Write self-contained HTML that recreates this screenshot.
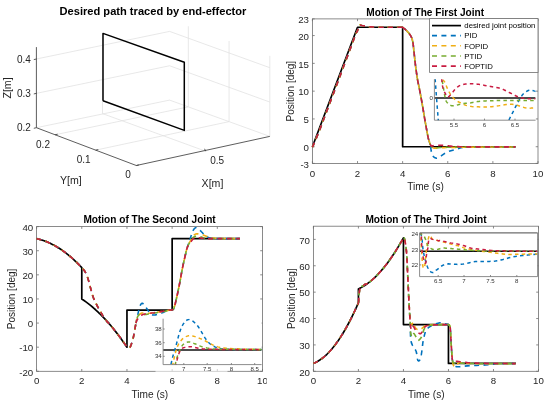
<!DOCTYPE html>
<html><head><meta charset="utf-8"><style>
html,body{margin:0;padding:0;background:#fff;}
svg{display:block;font-family:"Liberation Sans",Arial,Helvetica,sans-serif;}
</style></head><body>
<svg width="550" height="404" viewBox="0 0 550 404">
<rect x="0" y="0" width="550" height="404" fill="#fff"/>
<line x1="36.40" y1="127.70" x2="169.60" y2="100.10" stroke="#e0e0e0" stroke-width="0.75"/>
<line x1="169.60" y1="100.10" x2="269.80" y2="136.40" stroke="#e0e0e0" stroke-width="0.75"/>
<line x1="36.40" y1="93.35" x2="169.60" y2="65.75" stroke="#e0e0e0" stroke-width="0.75"/>
<line x1="169.60" y1="65.75" x2="269.80" y2="102.05" stroke="#e0e0e0" stroke-width="0.75"/>
<line x1="36.40" y1="59.00" x2="169.60" y2="31.40" stroke="#e0e0e0" stroke-width="0.75"/>
<line x1="169.60" y1="31.40" x2="269.80" y2="67.70" stroke="#e0e0e0" stroke-width="0.75"/>
<line x1="102.50" y1="113.60" x2="102.50" y2="33.00" stroke="#e0e0e0" stroke-width="0.75"/>
<line x1="205.60" y1="151.20" x2="102.50" y2="113.60" stroke="#e0e0e0" stroke-width="0.75"/>
<line x1="95.69" y1="150.13" x2="229.07" y2="121.64" stroke="#e0e0e0" stroke-width="0.75"/>
<line x1="229.07" y1="121.64" x2="229.07" y2="41.04" stroke="#e0e0e0" stroke-width="0.75"/>
<line x1="55.08" y1="134.77" x2="188.34" y2="106.89" stroke="#e0e0e0" stroke-width="0.75"/>
<line x1="188.34" y1="106.89" x2="188.34" y2="26.29" stroke="#e0e0e0" stroke-width="0.75"/>
<line x1="269.80" y1="136.40" x2="269.80" y2="55.80" stroke="#e0e0e0" stroke-width="0.75"/>
<line x1="36.40" y1="127.70" x2="36.40" y2="47.10" stroke="#333333" stroke-width="0.80"/>
<line x1="36.40" y1="127.70" x2="136.30" y2="165.50" stroke="#333333" stroke-width="0.80"/>
<line x1="136.30" y1="165.50" x2="269.80" y2="136.40" stroke="#333333" stroke-width="0.80"/>
<line x1="36.40" y1="127.70" x2="33.80" y2="128.30" stroke="#333333" stroke-width="0.80"/>
<text x="30.80" y="131.30" font-size="10.00" text-anchor="end" font-weight="normal" fill="#262626">0.2</text>
<line x1="36.40" y1="93.35" x2="33.80" y2="93.95" stroke="#333333" stroke-width="0.80"/>
<text x="30.80" y="96.95" font-size="10.00" text-anchor="end" font-weight="normal" fill="#262626">0.3</text>
<line x1="36.40" y1="59.00" x2="33.80" y2="59.60" stroke="#333333" stroke-width="0.80"/>
<text x="30.80" y="62.60" font-size="10.00" text-anchor="end" font-weight="normal" fill="#262626">0.4</text>
<line x1="136.30" y1="165.50" x2="138.90" y2="164.93" stroke="#333333" stroke-width="0.80"/>
<line x1="95.69" y1="150.13" x2="98.29" y2="149.56" stroke="#333333" stroke-width="0.80"/>
<line x1="55.08" y1="134.77" x2="57.68" y2="134.20" stroke="#333333" stroke-width="0.80"/>
<text x="43.00" y="148.00" font-size="10.00" text-anchor="middle" font-weight="normal" fill="#262626">0.2</text>
<text x="83.70" y="163.30" font-size="10.00" text-anchor="middle" font-weight="normal" fill="#262626">0.1</text>
<text x="128.10" y="178.30" font-size="10.00" text-anchor="middle" font-weight="normal" fill="#262626">0</text>
<line x1="205.60" y1="151.20" x2="204.60" y2="148.80" stroke="#333333" stroke-width="0.80"/>
<text x="217.20" y="163.90" font-size="10.00" text-anchor="middle" font-weight="normal" fill="#262626">0.5</text>
<text x="70.90" y="184.40" font-size="10.60" text-anchor="middle" font-weight="normal" fill="#262626">Y[m]</text>
<text x="212.50" y="186.50" font-size="10.60" text-anchor="middle" font-weight="normal" fill="#262626">X[m]</text>
<text x="0" y="0" font-size="10.6" text-anchor="middle" fill="#262626" transform="translate(11.2 88) rotate(-90)">Z[m]</text>
<text x="153.00" y="15.40" font-size="11.10" text-anchor="middle" font-weight="bold" fill="#000">Desired path traced by end-effector</text>
<polyline points="103.00,100.80 103.00,33.40 184.30,62.20 184.30,130.40 103.00,100.80" fill="none" stroke="#000" stroke-width="1.50" stroke-linejoin="round"/>
<rect x="312.40" y="18.90" width="225.60" height="144.50" fill="none" stroke="#6e6e6e" stroke-width="0.80"/>
<line x1="312.40" y1="163.40" x2="312.40" y2="161.10" stroke="#6e6e6e" stroke-width="0.80"/>
<line x1="312.40" y1="18.90" x2="312.40" y2="21.20" stroke="#6e6e6e" stroke-width="0.80"/>
<text x="312.40" y="176.50" font-size="9.70" text-anchor="middle" font-weight="normal" fill="#262626">0</text>
<line x1="357.52" y1="163.40" x2="357.52" y2="161.10" stroke="#6e6e6e" stroke-width="0.80"/>
<line x1="357.52" y1="18.90" x2="357.52" y2="21.20" stroke="#6e6e6e" stroke-width="0.80"/>
<text x="357.52" y="176.50" font-size="9.70" text-anchor="middle" font-weight="normal" fill="#262626">2</text>
<line x1="402.64" y1="163.40" x2="402.64" y2="161.10" stroke="#6e6e6e" stroke-width="0.80"/>
<line x1="402.64" y1="18.90" x2="402.64" y2="21.20" stroke="#6e6e6e" stroke-width="0.80"/>
<text x="402.64" y="176.50" font-size="9.70" text-anchor="middle" font-weight="normal" fill="#262626">4</text>
<line x1="447.76" y1="163.40" x2="447.76" y2="161.10" stroke="#6e6e6e" stroke-width="0.80"/>
<line x1="447.76" y1="18.90" x2="447.76" y2="21.20" stroke="#6e6e6e" stroke-width="0.80"/>
<text x="447.76" y="176.50" font-size="9.70" text-anchor="middle" font-weight="normal" fill="#262626">6</text>
<line x1="492.88" y1="163.40" x2="492.88" y2="161.10" stroke="#6e6e6e" stroke-width="0.80"/>
<line x1="492.88" y1="18.90" x2="492.88" y2="21.20" stroke="#6e6e6e" stroke-width="0.80"/>
<text x="492.88" y="176.50" font-size="9.70" text-anchor="middle" font-weight="normal" fill="#262626">8</text>
<line x1="538.00" y1="163.40" x2="538.00" y2="161.10" stroke="#6e6e6e" stroke-width="0.80"/>
<line x1="538.00" y1="18.90" x2="538.00" y2="21.20" stroke="#6e6e6e" stroke-width="0.80"/>
<text x="538.00" y="176.50" font-size="9.70" text-anchor="middle" font-weight="normal" fill="#262626">10</text>
<line x1="312.40" y1="163.40" x2="314.70" y2="163.40" stroke="#6e6e6e" stroke-width="0.80"/>
<line x1="538.00" y1="163.40" x2="535.70" y2="163.40" stroke="#6e6e6e" stroke-width="0.80"/>
<text x="309.00" y="167.60" font-size="9.70" text-anchor="end" font-weight="normal" fill="#262626">-3</text>
<line x1="312.40" y1="146.73" x2="314.70" y2="146.73" stroke="#6e6e6e" stroke-width="0.80"/>
<line x1="538.00" y1="146.73" x2="535.70" y2="146.73" stroke="#6e6e6e" stroke-width="0.80"/>
<text x="309.00" y="150.93" font-size="9.70" text-anchor="end" font-weight="normal" fill="#262626">0</text>
<line x1="312.40" y1="118.94" x2="314.70" y2="118.94" stroke="#6e6e6e" stroke-width="0.80"/>
<line x1="538.00" y1="118.94" x2="535.70" y2="118.94" stroke="#6e6e6e" stroke-width="0.80"/>
<text x="309.00" y="123.14" font-size="9.70" text-anchor="end" font-weight="normal" fill="#262626">5</text>
<line x1="312.40" y1="91.15" x2="314.70" y2="91.15" stroke="#6e6e6e" stroke-width="0.80"/>
<line x1="538.00" y1="91.15" x2="535.70" y2="91.15" stroke="#6e6e6e" stroke-width="0.80"/>
<text x="309.00" y="95.35" font-size="9.70" text-anchor="end" font-weight="normal" fill="#262626">10</text>
<line x1="312.40" y1="63.36" x2="314.70" y2="63.36" stroke="#6e6e6e" stroke-width="0.80"/>
<line x1="538.00" y1="63.36" x2="535.70" y2="63.36" stroke="#6e6e6e" stroke-width="0.80"/>
<text x="309.00" y="67.56" font-size="9.70" text-anchor="end" font-weight="normal" fill="#262626">15</text>
<line x1="312.40" y1="35.57" x2="314.70" y2="35.57" stroke="#6e6e6e" stroke-width="0.80"/>
<line x1="538.00" y1="35.57" x2="535.70" y2="35.57" stroke="#6e6e6e" stroke-width="0.80"/>
<text x="309.00" y="39.77" font-size="9.70" text-anchor="end" font-weight="normal" fill="#262626">20</text>
<line x1="312.40" y1="18.90" x2="314.70" y2="18.90" stroke="#6e6e6e" stroke-width="0.80"/>
<line x1="538.00" y1="18.90" x2="535.70" y2="18.90" stroke="#6e6e6e" stroke-width="0.80"/>
<text x="309.00" y="23.10" font-size="9.70" text-anchor="end" font-weight="normal" fill="#262626">23</text>
<text x="425.50" y="190.00" font-size="10.10" text-anchor="middle" font-weight="normal" fill="#262626">Time (s)</text>
<text x="425.20" y="15.50" font-size="10.10" text-anchor="middle" font-weight="bold" fill="#000">Motion of The First Joint</text>
<text x="0" y="0" font-size="10.00" text-anchor="middle" fill="#262626" transform="translate(294.20 91.15) rotate(-90)">Position [deg]</text>
<polyline points="312.40,146.73 357.52,27.24 402.64,27.24 402.64,146.73 515.44,146.73" fill="none" stroke="#000" stroke-width="1.70" stroke-linejoin="round"/>
<polyline points="312.40,147.28 313.56,144.57 315.22,140.72 317.16,136.12 319.17,131.17 321.32,125.59 323.68,119.32 326.04,112.99 328.19,107.27 329.94,102.68 331.43,98.76 333.00,94.65 334.96,89.48 337.52,82.70 340.46,74.86 343.47,66.83 346.24,59.47 348.81,52.62 351.32,45.96 353.54,40.08 355.26,35.57 356.31,33.00 356.84,31.91 357.15,31.40 357.52,30.57 357.98,29.14 358.39,27.60 358.82,26.23 359.32,25.29 359.84,24.95 360.37,25.03 361.05,25.31 362.03,25.57 363.33,25.80 364.88,26.11 366.70,26.42 368.80,26.68 371.04,26.87 373.45,27.03 376.36,27.15 380.08,27.24 385.46,27.28 392.06,27.27 398.32,27.25 402.64,27.24" fill="none" stroke="#0072BD" stroke-width="1.60" stroke-dasharray="5 4.4" stroke-dashoffset="0.0" stroke-linejoin="round"/>
<polyline points="402.64,27.24 402.60,27.23 402.53,27.21 402.53,27.24 402.70,27.40 403.11,27.72 403.70,28.16 404.36,28.67 405.00,29.20 405.62,29.76 406.27,30.36 406.91,30.99 407.50,31.60 408.03,32.17 408.53,32.73 409.00,33.32 409.50,34.00 410.04,34.79 410.59,35.64 411.13,36.58 411.60,37.60 411.99,38.65 412.32,39.74 412.61,40.99 412.90,42.50 413.17,44.35 413.42,46.47 413.66,48.73 413.90,51.00 414.15,53.28 414.39,55.63 414.64,58.01 414.90,60.40 415.18,62.78 415.47,65.16 415.77,67.57 416.10,70.00 416.44,72.48 416.80,74.99 417.18,77.50 417.60,80.00 418.05,82.36 418.53,84.64 419.05,87.05 419.60,89.80 420.21,93.01 420.86,96.54 421.54,100.26 422.20,104.00 422.86,107.89 423.54,111.95 424.19,115.91 424.80,119.50 425.35,122.62 425.86,125.44 426.34,128.03 426.80,130.50 427.24,132.87 427.66,135.09 428.07,137.14 428.50,139.00 428.99,140.74 429.51,142.33 429.97,143.66 430.30,144.60 431.20,151.00 431.45,151.76 431.80,152.86 432.22,154.10 432.69,155.28 433.20,156.20 433.76,156.86 434.37,157.40 435.03,157.81 435.72,158.08 436.40,158.20 437.04,158.16 437.63,157.96 438.27,157.63 439.04,157.17 440.00,156.60 441.19,155.84 442.57,154.89 444.07,153.85 445.67,152.85 447.30,152.00 449.04,151.31 450.90,150.71 452.81,150.18 454.67,149.68 456.40,149.20 457.97,148.72 459.46,148.27 460.87,147.85 462.24,147.49 463.60,147.20 464.87,146.99 466.04,146.86 467.22,146.78 468.50,146.74 470.00,146.70 471.36,146.68 472.52,146.70 473.99,146.73 476.31,146.77 480.00,146.80 486.04,146.82 494.07,146.84 502.63,146.87 510.26,146.89 515.50,146.90" fill="none" stroke="#0072BD" stroke-width="1.60" stroke-dasharray="5 4.4" stroke-dashoffset="6.6" stroke-linejoin="round"/>
<polyline points="312.40,147.28 313.56,144.57 315.22,140.72 317.16,136.12 319.17,131.17 321.32,125.59 323.68,119.32 326.04,112.99 328.19,107.27 329.94,102.68 331.43,98.76 333.00,94.65 334.96,89.48 337.52,82.70 340.46,74.86 343.47,66.83 346.24,59.47 348.81,52.62 351.32,45.96 353.54,40.08 355.26,35.57 356.31,33.00 356.84,31.91 357.15,31.40 357.52,30.57 357.98,29.14 358.39,27.60 358.82,26.23 359.32,25.29 359.84,24.95 360.37,25.03 361.05,25.31 362.03,25.57 363.33,25.80 364.88,26.11 366.70,26.42 368.80,26.68 371.04,26.87 373.45,27.03 376.36,27.15 380.08,27.24 385.46,27.28 392.06,27.27 398.32,27.25 402.64,27.24" fill="none" stroke="#F0AE14" stroke-width="1.60" stroke-dasharray="5 4.4" stroke-dashoffset="0.6" stroke-linejoin="round"/>
<polyline points="402.64,27.24 402.60,27.23 402.53,27.21 402.53,27.24 402.70,27.40 403.11,27.72 403.70,28.16 404.36,28.67 405.00,29.20 405.62,29.76 406.27,30.36 406.91,30.99 407.50,31.60 408.03,32.17 408.53,32.73 409.00,33.32 409.50,34.00 410.04,34.79 410.59,35.64 411.13,36.58 411.60,37.60 411.99,38.65 412.32,39.74 412.61,40.99 412.90,42.50 413.17,44.35 413.42,46.47 413.66,48.73 413.90,51.00 414.15,53.28 414.39,55.63 414.64,58.01 414.90,60.40 415.18,62.78 415.47,65.16 415.77,67.57 416.10,70.00 416.44,72.48 416.80,74.99 417.18,77.50 417.60,80.00 418.05,82.36 418.53,84.64 419.05,87.05 419.60,89.80 420.21,93.01 420.86,96.54 421.54,100.26 422.20,104.00 422.86,107.89 423.54,111.95 424.19,115.91 424.80,119.50 425.35,122.62 425.86,125.44 426.34,128.03 426.80,130.50 427.24,132.87 427.66,135.09 428.07,137.14 428.50,139.00 428.99,140.74 429.51,142.33 429.97,143.66 430.30,144.60 432.00,147.60 432.38,147.70 432.89,147.84 433.51,148.00 434.22,148.13 435.00,148.20 435.82,148.18 436.71,148.11 437.69,148.00 438.78,147.89 440.00,147.80 441.34,147.73 442.79,147.67 444.37,147.61 446.10,147.55 448.00,147.50 450.02,147.45 452.13,147.41 454.43,147.38 457.02,147.34 460.00,147.30 463.49,147.26 467.42,147.22 471.62,147.17 475.87,147.13 480.00,147.10 484.07,147.07 488.22,147.05 492.32,147.04 496.29,147.02 500.00,147.00 503.64,146.98 507.27,146.96 510.63,146.93 513.46,146.91 515.50,146.90" fill="none" stroke="#F0AE14" stroke-width="1.60" stroke-dasharray="5 4.4" stroke-dashoffset="4.7" stroke-linejoin="round"/>
<polyline points="312.40,147.28 313.56,144.57 315.22,140.72 317.16,136.12 319.17,131.17 321.32,125.59 323.68,119.32 326.04,112.99 328.19,107.27 329.94,102.68 331.43,98.76 333.00,94.65 334.96,89.48 337.52,82.70 340.46,74.86 343.47,66.83 346.24,59.47 348.81,52.62 351.32,45.96 353.54,40.08 355.26,35.57 356.31,33.00 356.84,31.91 357.15,31.40 357.52,30.57 357.98,29.14 358.39,27.60 358.82,26.23 359.32,25.29 359.84,24.95 360.37,25.03 361.05,25.31 362.03,25.57 363.33,25.80 364.88,26.11 366.70,26.42 368.80,26.68 371.04,26.87 373.45,27.03 376.36,27.15 380.08,27.24 385.46,27.28 392.06,27.27 398.32,27.25 402.64,27.24" fill="none" stroke="#77AC30" stroke-width="1.60" stroke-dasharray="5 4.4" stroke-dashoffset="0.3" stroke-linejoin="round"/>
<polyline points="402.64,27.24 402.60,27.23 402.53,27.21 402.53,27.24 402.70,27.40 403.11,27.72 403.70,28.16 404.36,28.67 405.00,29.20 405.62,29.76 406.27,30.36 406.91,30.99 407.50,31.60 408.03,32.17 408.53,32.73 409.00,33.32 409.50,34.00 410.04,34.79 410.59,35.64 411.13,36.58 411.60,37.60 411.99,38.65 412.32,39.74 412.61,40.99 412.90,42.50 413.17,44.35 413.42,46.47 413.66,48.73 413.90,51.00 414.15,53.28 414.39,55.63 414.64,58.01 414.90,60.40 415.18,62.78 415.47,65.16 415.77,67.57 416.10,70.00 416.44,72.48 416.80,74.99 417.18,77.50 417.60,80.00 418.05,82.36 418.53,84.64 419.05,87.05 419.60,89.80 420.21,93.01 420.86,96.54 421.54,100.26 422.20,104.00 422.86,107.89 423.54,111.95 424.19,115.91 424.80,119.50 425.35,122.62 425.86,125.44 426.34,128.03 426.80,130.50 427.24,132.87 427.66,135.09 428.07,137.14 428.50,139.00 428.99,140.74 429.51,142.33 429.97,143.66 430.30,144.60 432.00,147.40 432.38,147.48 432.89,147.61 433.51,147.74 434.22,147.85 435.00,147.90 435.79,147.88 436.62,147.80 437.54,147.70 438.65,147.59 440.00,147.50 441.52,147.43 443.16,147.37 445.04,147.31 447.28,147.25 450.00,147.20 452.95,147.15 456.06,147.11 459.68,147.07 464.21,147.03 470.00,147.00 478.20,146.97 488.55,146.95 499.35,146.93 508.90,146.91 515.50,146.90" fill="none" stroke="#77AC30" stroke-width="1.60" stroke-dasharray="5 4.4" stroke-dashoffset="1.0" stroke-linejoin="round"/>
<polyline points="312.40,147.28 313.56,144.57 315.22,140.72 317.16,136.12 319.17,131.17 321.32,125.59 323.68,119.32 326.04,112.99 328.19,107.27 329.94,102.68 331.43,98.76 333.00,94.65 334.96,89.48 337.52,82.70 340.46,74.86 343.47,66.83 346.24,59.47 348.81,52.62 351.32,45.96 353.54,40.08 355.26,35.57 356.31,33.00 356.84,31.91 357.15,31.40 357.52,30.57 357.98,29.14 358.39,27.60 358.82,26.23 359.32,25.29 359.84,24.95 360.37,25.03 361.05,25.31 362.03,25.57 363.33,25.80 364.88,26.11 366.70,26.42 368.80,26.68 371.04,26.87 373.45,27.03 376.36,27.15 380.08,27.24 385.46,27.28 392.06,27.27 398.32,27.25 402.64,27.24" fill="none" stroke="#C91C42" stroke-width="1.60" stroke-dasharray="5 4.4" stroke-dashoffset="0.0" stroke-linejoin="round"/>
<polyline points="402.64,27.24 402.60,27.23 402.53,27.21 402.53,27.24 402.70,27.40 403.11,27.72 403.70,28.16 404.36,28.67 405.00,29.20 405.62,29.76 406.27,30.36 406.91,30.99 407.50,31.60 408.03,32.17 408.53,32.73 409.00,33.32 409.50,34.00 410.04,34.79 410.59,35.64 411.13,36.58 411.60,37.60 411.99,38.65 412.32,39.74 412.61,40.99 412.90,42.50 413.17,44.35 413.42,46.47 413.66,48.73 413.90,51.00 414.15,53.28 414.39,55.63 414.64,58.01 414.90,60.40 415.18,62.78 415.47,65.16 415.77,67.57 416.10,70.00 416.44,72.48 416.80,74.99 417.18,77.50 417.60,80.00 418.05,82.36 418.53,84.64 419.05,87.05 419.60,89.80 420.21,93.01 420.86,96.54 421.54,100.26 422.20,104.00 422.86,107.89 423.54,111.95 424.19,115.91 424.80,119.50 425.35,122.62 425.86,125.44 426.34,128.03 426.80,130.50 427.24,132.87 427.66,135.09 428.07,137.14 428.50,139.00 428.99,140.74 429.51,142.33 429.97,143.66 430.30,144.60 431.50,146.20 431.78,146.11 432.15,145.99 432.63,145.85 433.24,145.71 434.00,145.60 434.98,145.51 436.15,145.43 437.43,145.36 438.74,145.32 440.00,145.30 441.20,145.32 442.40,145.36 443.60,145.43 444.80,145.51 446.00,145.60 447.17,145.70 448.30,145.82 449.46,145.95 450.67,146.08 452.00,146.20 453.44,146.31 454.96,146.42 456.56,146.53 458.24,146.62 460.00,146.70 461.30,146.76 462.15,146.81 463.35,146.85 465.70,146.88 470.00,146.90 477.56,146.91 487.83,146.91 498.87,146.91 508.74,146.90 515.50,146.90" fill="none" stroke="#C91C42" stroke-width="1.60" stroke-dasharray="5 4.4" stroke-dashoffset="0.0" stroke-linejoin="round"/>
<rect x="429.6" y="18.6" width="108.4" height="53.9" fill="#fff" stroke="#6e6e6e" stroke-width="0.80"/>
<polyline points="432.00,25.60 461.00,25.60" fill="none" stroke="#000" stroke-width="1.70" stroke-linejoin="round"/>
<text x="464.30" y="28.40" font-size="7.80" text-anchor="start" font-weight="normal" fill="#000">desired joint position</text>
<polyline points="432.00,35.60 461.00,35.60" fill="none" stroke="#0072BD" stroke-width="1.60" stroke-dasharray="5 4.4" stroke-dashoffset="0.0" stroke-linejoin="round"/>
<text x="464.30" y="38.40" font-size="7.80" text-anchor="start" font-weight="normal" fill="#000">PID</text>
<polyline points="432.00,45.80 461.00,45.80" fill="none" stroke="#F0AE14" stroke-width="1.60" stroke-dasharray="5 4.4" stroke-dashoffset="0.0" stroke-linejoin="round"/>
<text x="464.30" y="48.60" font-size="7.80" text-anchor="start" font-weight="normal" fill="#000">FOPID</text>
<polyline points="432.00,56.00 461.00,56.00" fill="none" stroke="#77AC30" stroke-width="1.60" stroke-dasharray="5 4.4" stroke-dashoffset="0.0" stroke-linejoin="round"/>
<text x="464.30" y="58.80" font-size="7.80" text-anchor="start" font-weight="normal" fill="#000">PTID</text>
<polyline points="432.00,66.10 461.00,66.10" fill="none" stroke="#C91C42" stroke-width="1.60" stroke-dasharray="5 4.4" stroke-dashoffset="0.0" stroke-linejoin="round"/>
<text x="464.30" y="68.90" font-size="7.80" text-anchor="start" font-weight="normal" fill="#000">FOPTID</text>
<clipPath id="c1"><rect x="434.40" y="79.20" width="101.20" height="41.00"/></clipPath>
<rect x="434.40" y="79.20" width="101.20" height="41.00" fill="#fff"/>
<g clip-path="url(#c1)">
<polyline points="434.40,98.10 535.60,98.10" fill="none" stroke="#111" stroke-width="1.50" stroke-linejoin="round"/>
<polyline points="434.90,72.00 434.92,72.78 434.95,73.77 434.99,75.08 435.06,76.85 435.20,79.20 435.40,82.30 435.67,86.06 435.97,90.24 436.28,94.57 436.60,98.80 436.94,103.25 437.33,108.08 437.71,112.82 438.04,117.02 438.30,120.20 438.45,122.15 438.54,123.17 438.57,123.60 438.58,123.76 438.60,124.00" fill="none" stroke="#0072BD" stroke-width="1.50" stroke-dasharray="3.5 3.2" stroke-dashoffset="0.0" stroke-linejoin="round"/>
<polyline points="506.00,126.00 506.36,125.24 506.86,124.19 507.46,122.94 508.12,121.58 508.80,120.20 509.53,118.75 510.34,117.18 511.19,115.54 512.02,113.93 512.80,112.40 513.52,110.97 514.20,109.58 514.87,108.24 515.53,106.91 516.20,105.60 516.88,104.29 517.56,102.99 518.24,101.71 518.92,100.48 519.60,99.30 520.26,98.18 520.90,97.09 521.55,96.06 522.24,95.09 523.00,94.20 523.86,93.37 524.81,92.58 525.79,91.88 526.74,91.27 527.60,90.80 528.34,90.47 528.99,90.27 529.62,90.18 530.27,90.16 531.00,90.20 531.86,90.33 532.82,90.57 533.79,90.86 534.71,91.16 535.50,91.40 536.17,91.60 536.76,91.79 537.28,91.96 537.69,92.10 538.00,92.20" fill="none" stroke="#0072BD" stroke-width="1.50" stroke-dasharray="3.5 3.2" stroke-dashoffset="0.0" stroke-linejoin="round"/>
<polyline points="442.00,75.00 442.08,75.58 442.19,76.41 442.33,77.36 442.53,78.33 442.80,79.20 443.16,79.91 443.59,80.52 444.07,81.15 444.58,81.88 445.10,82.80 445.63,84.00 446.18,85.41 446.75,86.91 447.33,88.38 447.90,89.70 448.48,90.86 449.06,91.95 449.64,92.97 450.22,93.92 450.80,94.80 451.36,95.60 451.90,96.31 452.44,96.96 453.00,97.59 453.60,98.20 454.22,98.81 454.86,99.39 455.52,99.94 456.23,100.48 457.00,101.00 457.84,101.50 458.76,101.97 459.71,102.42 460.67,102.86 461.60,103.30 462.49,103.75 463.35,104.20 464.22,104.64 465.12,105.05 466.10,105.40 467.13,105.70 468.18,105.95 469.30,106.16 470.49,106.34 471.80,106.50 473.28,106.63 474.92,106.72 476.62,106.79 478.28,106.84 479.80,106.90 481.14,106.97 482.35,107.03 483.52,107.09 484.71,107.11 486.00,107.10 487.39,107.04 488.84,106.94 490.34,106.81 491.86,106.66 493.40,106.50 494.96,106.31 496.56,106.10 498.18,105.87 499.80,105.63 501.40,105.40 503.00,105.13 504.62,104.83 506.22,104.54 507.79,104.31 509.30,104.20 510.76,104.22 512.19,104.33 513.57,104.51 514.91,104.74 516.20,105.00 517.42,105.30 518.57,105.67 519.68,106.07 520.78,106.46 521.90,106.80 523.00,107.12 524.07,107.43 525.15,107.71 526.31,107.94 527.60,108.10 529.18,108.15 531.02,108.12 532.87,108.04 534.48,107.95 535.60,107.90" fill="none" stroke="#F0AE14" stroke-width="1.50" stroke-dasharray="3.5 3.2" stroke-dashoffset="2.0" stroke-linejoin="round"/>
<polyline points="441.50,75.00 441.55,75.51 441.62,76.19 441.71,77.03 441.83,78.04 442.00,79.20 442.23,80.62 442.52,82.31 442.83,84.11 443.14,85.86 443.40,87.40 443.60,88.68 443.77,89.81 443.93,90.86 444.10,91.93 444.30,93.10 444.54,94.44 444.79,95.90 445.06,97.37 445.36,98.74 445.70,99.90 446.06,100.81 446.44,101.55 446.85,102.17 447.33,102.73 447.90,103.30 448.57,103.91 449.32,104.52 450.13,105.08 451.00,105.53 451.90,105.80 452.84,105.86 453.83,105.75 454.86,105.52 455.92,105.25 457.00,105.00 458.08,104.75 459.18,104.44 460.31,104.13 461.48,103.84 462.70,103.60 463.97,103.44 465.28,103.34 466.64,103.26 468.05,103.16 469.50,103.00 471.05,102.76 472.69,102.46 474.35,102.14 475.98,101.84 477.50,101.60 478.82,101.43 479.99,101.29 481.15,101.19 482.44,101.09 484.00,101.00 485.85,100.90 487.88,100.81 490.10,100.73 492.47,100.66 495.00,100.60 497.57,100.56 500.20,100.53 503.04,100.52 506.26,100.51 510.00,100.50 514.85,100.49 520.71,100.49 526.69,100.50 531.95,100.50 535.60,100.50" fill="none" stroke="#77AC30" stroke-width="1.50" stroke-dasharray="3.5 3.2" stroke-dashoffset="1.0" stroke-linejoin="round"/>
<polyline points="441.20,75.00 441.26,75.51 441.34,76.19 441.43,77.03 441.55,78.04 441.70,79.20 441.86,80.62 442.04,82.31 442.24,84.11 442.49,85.86 442.80,87.40 443.18,88.73 443.61,89.95 444.09,91.07 444.59,92.12 445.10,93.10 445.61,94.12 446.13,95.16 446.67,96.09 447.26,96.75 447.90,97.00 448.61,96.75 449.36,96.09 450.16,95.16 451.01,94.12 451.90,93.10 452.84,92.03 453.83,90.82 454.86,89.56 455.92,88.39 457.00,87.40 458.06,86.61 459.13,85.94 460.23,85.37 461.40,84.90 462.70,84.50 464.17,84.18 465.79,83.97 467.48,83.83 469.14,83.74 470.70,83.70 472.16,83.71 473.56,83.79 474.92,83.91 476.24,84.05 477.50,84.20 478.64,84.34 479.65,84.49 480.66,84.66 481.77,84.86 483.10,85.10 484.75,85.40 486.64,85.75 488.62,86.12 490.56,86.48 492.30,86.80 493.83,87.06 495.25,87.27 496.57,87.47 497.85,87.70 499.10,88.00 500.29,88.36 501.41,88.75 502.49,89.18 503.61,89.66 504.80,90.20 506.11,90.83 507.49,91.54 508.91,92.29 510.29,93.02 511.60,93.70 512.83,94.33 514.01,94.94 515.15,95.51 516.25,96.04 517.30,96.50 518.27,96.88 519.17,97.18 520.03,97.44 520.93,97.67 521.90,97.90 522.93,98.13 523.99,98.34 525.10,98.53 526.30,98.69 527.60,98.80 529.18,98.86 531.02,98.86 532.87,98.84 534.48,98.81 535.60,98.80" fill="none" stroke="#C91C42" stroke-width="1.50" stroke-dasharray="3.5 3.2" stroke-dashoffset="3.0" stroke-linejoin="round"/>
</g>
<line x1="434.40" y1="79.20" x2="434.40" y2="120.20" stroke="#6e6e6e" stroke-width="0.80"/>
<line x1="434.40" y1="120.20" x2="535.60" y2="120.20" stroke="#6e6e6e" stroke-width="0.80"/>
<line x1="454.00" y1="120.20" x2="454.00" y2="118.60" stroke="#6e6e6e" stroke-width="0.80"/>
<text x="454.00" y="126.80" font-size="6.10" text-anchor="middle" font-weight="normal" fill="#333">5.5</text>
<line x1="484.50" y1="120.20" x2="484.50" y2="118.60" stroke="#6e6e6e" stroke-width="0.80"/>
<text x="484.50" y="126.80" font-size="6.10" text-anchor="middle" font-weight="normal" fill="#333">6</text>
<line x1="515.00" y1="120.20" x2="515.00" y2="118.60" stroke="#6e6e6e" stroke-width="0.80"/>
<text x="515.00" y="126.80" font-size="6.10" text-anchor="middle" font-weight="normal" fill="#333">6.5</text>
<line x1="434.40" y1="98.10" x2="436.00" y2="98.10" stroke="#6e6e6e" stroke-width="0.80"/>
<text x="433.00" y="100.20" font-size="6.10" text-anchor="end" font-weight="normal" fill="#333">0</text>
<rect x="36.60" y="226.60" width="225.90" height="144.70" fill="none" stroke="#6e6e6e" stroke-width="0.80"/>
<line x1="36.60" y1="371.30" x2="36.60" y2="369.00" stroke="#6e6e6e" stroke-width="0.80"/>
<line x1="36.60" y1="226.60" x2="36.60" y2="228.90" stroke="#6e6e6e" stroke-width="0.80"/>
<text x="36.60" y="384.40" font-size="9.70" text-anchor="middle" font-weight="normal" fill="#262626">0</text>
<line x1="81.78" y1="371.30" x2="81.78" y2="369.00" stroke="#6e6e6e" stroke-width="0.80"/>
<line x1="81.78" y1="226.60" x2="81.78" y2="228.90" stroke="#6e6e6e" stroke-width="0.80"/>
<text x="81.78" y="384.40" font-size="9.70" text-anchor="middle" font-weight="normal" fill="#262626">2</text>
<line x1="126.96" y1="371.30" x2="126.96" y2="369.00" stroke="#6e6e6e" stroke-width="0.80"/>
<line x1="126.96" y1="226.60" x2="126.96" y2="228.90" stroke="#6e6e6e" stroke-width="0.80"/>
<text x="126.96" y="384.40" font-size="9.70" text-anchor="middle" font-weight="normal" fill="#262626">4</text>
<line x1="172.14" y1="371.30" x2="172.14" y2="369.00" stroke="#6e6e6e" stroke-width="0.80"/>
<line x1="172.14" y1="226.60" x2="172.14" y2="228.90" stroke="#6e6e6e" stroke-width="0.80"/>
<text x="172.14" y="384.40" font-size="9.70" text-anchor="middle" font-weight="normal" fill="#262626">6</text>
<line x1="217.32" y1="371.30" x2="217.32" y2="369.00" stroke="#6e6e6e" stroke-width="0.80"/>
<line x1="217.32" y1="226.60" x2="217.32" y2="228.90" stroke="#6e6e6e" stroke-width="0.80"/>
<text x="217.32" y="384.40" font-size="9.70" text-anchor="middle" font-weight="normal" fill="#262626">8</text>
<line x1="262.50" y1="371.30" x2="262.50" y2="369.00" stroke="#6e6e6e" stroke-width="0.80"/>
<line x1="262.50" y1="226.60" x2="262.50" y2="228.90" stroke="#6e6e6e" stroke-width="0.80"/>
<text x="262.50" y="384.40" font-size="9.70" text-anchor="middle" font-weight="normal" fill="#262626">10</text>
<line x1="36.60" y1="371.30" x2="38.90" y2="371.30" stroke="#6e6e6e" stroke-width="0.80"/>
<line x1="262.50" y1="371.30" x2="260.20" y2="371.30" stroke="#6e6e6e" stroke-width="0.80"/>
<text x="33.20" y="375.50" font-size="9.70" text-anchor="end" font-weight="normal" fill="#262626">-20</text>
<line x1="36.60" y1="347.18" x2="38.90" y2="347.18" stroke="#6e6e6e" stroke-width="0.80"/>
<line x1="262.50" y1="347.18" x2="260.20" y2="347.18" stroke="#6e6e6e" stroke-width="0.80"/>
<text x="33.20" y="351.38" font-size="9.70" text-anchor="end" font-weight="normal" fill="#262626">-10</text>
<line x1="36.60" y1="323.07" x2="38.90" y2="323.07" stroke="#6e6e6e" stroke-width="0.80"/>
<line x1="262.50" y1="323.07" x2="260.20" y2="323.07" stroke="#6e6e6e" stroke-width="0.80"/>
<text x="33.20" y="327.27" font-size="9.70" text-anchor="end" font-weight="normal" fill="#262626">0</text>
<line x1="36.60" y1="298.95" x2="38.90" y2="298.95" stroke="#6e6e6e" stroke-width="0.80"/>
<line x1="262.50" y1="298.95" x2="260.20" y2="298.95" stroke="#6e6e6e" stroke-width="0.80"/>
<text x="33.20" y="303.15" font-size="9.70" text-anchor="end" font-weight="normal" fill="#262626">10</text>
<line x1="36.60" y1="274.83" x2="38.90" y2="274.83" stroke="#6e6e6e" stroke-width="0.80"/>
<line x1="262.50" y1="274.83" x2="260.20" y2="274.83" stroke="#6e6e6e" stroke-width="0.80"/>
<text x="33.20" y="279.03" font-size="9.70" text-anchor="end" font-weight="normal" fill="#262626">20</text>
<line x1="36.60" y1="250.72" x2="38.90" y2="250.72" stroke="#6e6e6e" stroke-width="0.80"/>
<line x1="262.50" y1="250.72" x2="260.20" y2="250.72" stroke="#6e6e6e" stroke-width="0.80"/>
<text x="33.20" y="254.92" font-size="9.70" text-anchor="end" font-weight="normal" fill="#262626">30</text>
<line x1="36.60" y1="226.60" x2="38.90" y2="226.60" stroke="#6e6e6e" stroke-width="0.80"/>
<line x1="262.50" y1="226.60" x2="260.20" y2="226.60" stroke="#6e6e6e" stroke-width="0.80"/>
<text x="33.20" y="230.80" font-size="9.70" text-anchor="end" font-weight="normal" fill="#262626">40</text>
<text x="149.85" y="397.90" font-size="10.10" text-anchor="middle" font-weight="normal" fill="#262626">Time (s)</text>
<text x="149.55" y="223.20" font-size="10.10" text-anchor="middle" font-weight="bold" fill="#000">Motion of The Second Joint</text>
<text x="0" y="0" font-size="10.00" text-anchor="middle" fill="#262626" transform="translate(15.10 298.95) rotate(-90)">Position [deg]</text>
<polyline points="36.60,238.66 38.86,239.19 41.12,239.82 43.38,240.54 45.64,241.36 47.90,242.28 50.15,243.29 52.41,244.40 54.67,245.60 56.93,246.91 59.19,248.31 61.45,249.80 63.71,251.39 65.97,253.08 68.23,254.86 70.48,256.75 72.74,258.72 75.00,260.80 77.26,262.97 79.52,265.23 81.78,267.60 81.78,298.95 81.78,298.95 84.04,300.48 86.30,302.10 88.56,303.81 90.82,305.62 93.08,307.52 95.33,309.51 97.59,311.60 99.85,313.77 102.11,316.05 104.37,318.41 106.63,320.87 108.89,323.42 111.15,326.07 113.41,328.80 115.66,331.63 117.92,334.56 120.18,337.57 122.44,340.68 124.70,343.89 126.96,347.18 126.96,310.04 172.14,310.04 172.14,238.66 239.91,238.66" fill="none" stroke="#000" stroke-width="1.70" stroke-linejoin="round"/>
<polyline points="36.60,238.66 37.01,238.75 37.59,238.88 38.24,239.04 38.86,239.19 39.42,239.34 39.99,239.49 40.55,239.65 41.12,239.82 41.68,239.99 42.25,240.17 42.81,240.35 43.38,240.54 43.94,240.74 44.51,240.94 45.07,241.15 45.64,241.36 46.20,241.58 46.77,241.81 47.33,242.04 47.90,242.28 48.46,242.52 49.02,242.77 49.59,243.03 50.15,243.29 50.72,243.56 51.28,243.83 51.85,244.11 52.41,244.40 52.98,244.69 53.54,244.99 54.11,245.29 54.67,245.60 55.24,245.92 55.80,246.24 56.37,246.57 56.93,246.91 57.50,247.25 58.06,247.59 58.63,247.95 59.19,248.31 59.75,248.67 60.32,249.04 60.88,249.42 61.45,249.80 62.01,250.19 62.58,250.58 63.14,250.98 63.71,251.39 64.27,251.80 64.84,252.22 65.40,252.65 65.97,253.08 66.53,253.52 67.10,253.96 67.66,254.41 68.23,254.86 68.79,255.33 69.36,255.79 69.92,256.27 70.48,256.75 71.05,257.23 71.61,257.72 72.18,258.22 72.74,258.72 73.31,259.23 73.87,259.75 74.44,260.27 75.00,260.80 75.57,261.33 76.13,261.87 76.70,262.42 77.26,262.97 77.83,263.53 78.39,264.09 78.96,264.66 79.52,265.23 80.09,265.81 80.65,266.39 81.22,266.98 81.78,267.60 82.34,268.21 82.91,268.83 83.47,269.50 84.04,270.25 84.60,271.07 85.17,271.94 85.73,272.93 86.30,274.11 86.86,275.51 87.43,277.08 87.99,278.80 88.56,280.62 89.12,282.60 89.67,284.72 90.24,286.91 90.82,289.06 91.38,291.17 91.95,293.27 92.56,295.38 93.30,297.50 94.17,299.64 95.15,301.78 96.22,303.96 97.37,306.19 98.66,308.58 100.09,311.08 101.51,313.49 102.79,315.59 103.90,317.32 104.91,318.81 105.82,320.07 106.63,321.14 107.30,321.93 107.86,322.46 108.36,322.90 108.89,323.42 109.45,324.06 110.02,324.72 110.58,325.39 111.15,326.07 111.71,326.74 112.28,327.42 112.84,328.11 113.41,328.80 113.97,329.50 114.54,330.21 115.10,330.92 115.66,331.63 116.23,332.36 116.79,333.08 117.36,333.82 117.92,334.56 118.49,335.30 119.05,336.05 119.62,336.81 120.18,337.57 120.75,338.34 121.31,339.12 121.88,339.90 122.44,340.68 123.01,341.49 123.57,342.32 124.14,343.13 124.70,343.89 125.26,344.60 125.82,345.28 126.38,345.91 126.96,346.46 127.58,347.03 128.22,347.60 128.85,347.96 129.44,347.91 129.98,347.35 130.49,346.40 130.98,345.18 131.48,343.81 131.98,342.37 132.47,340.78 132.97,338.90 133.51,336.57 134.12,333.49 134.78,329.82 135.43,326.15 136.00,323.07" fill="none" stroke="#0072BD" stroke-width="1.60" stroke-dasharray="5 4.4" stroke-dashoffset="0.0" stroke-linejoin="round"/>
<polyline points="136.00,323.07 136.47,320.77 136.87,318.94 137.23,317.36 137.58,315.83 137.88,314.38 138.13,313.07 138.39,311.82 138.71,310.53 139.11,309.07 139.57,307.53 140.05,306.10 140.51,304.98 140.94,304.18 141.36,303.62 141.81,303.32 142.32,303.29 142.92,303.59 143.58,304.20 144.29,305.01 145.03,305.94 145.82,307.07 146.66,308.40 147.53,309.77 148.42,311.01 149.29,312.17 150.16,313.30 151.12,314.25 152.26,314.87 153.71,315.03 155.38,314.85 157.07,314.50 158.59,314.14 159.86,313.79 161.01,313.35 162.08,312.89 163.10,312.46 164.07,312.04 164.97,311.62 165.84,311.23 166.72,310.89 167.65,310.61 168.61,310.38 169.52,310.20 170.33,310.04 171.01,309.97 171.60,309.98 172.12,309.95 172.59,309.80 172.98,309.62 173.28,309.41 173.58,308.98 173.95,308.11 174.38,306.85 174.84,305.27 175.36,303.24 175.98,300.64 176.74,297.25 177.62,293.21 178.52,288.90 179.37,284.72 180.13,280.68 180.87,276.60 181.58,272.60 182.31,268.80 183.06,265.19 183.82,261.72 184.56,258.47 185.24,255.54 185.85,253.00 186.41,250.78 186.95,248.77 187.50,246.86 188.09,245.03 188.69,243.35 189.26,241.79 189.76,240.35 190.15,239.08 190.45,237.98 190.75,236.92 191.12,235.76 191.57,234.43 192.08,232.99 192.61,231.62 193.15,230.46 193.70,229.54 194.28,228.77 194.85,228.19 195.41,227.81 195.91,227.66 196.38,227.73 196.87,227.96 197.44,228.29 198.11,228.74 198.84,229.33 199.61,230.00 200.38,230.70 201.14,231.44 201.92,232.24 202.71,233.05 203.54,233.84 204.42,234.62 205.33,235.40 206.26,236.13 207.15,236.73 207.99,237.16 208.79,237.48 209.62,237.72 210.54,237.93 211.49,238.14 212.45,238.30 213.59,238.44 215.06,238.54 216.84,238.60 218.87,238.64 221.26,238.65 224.10,238.66 227.94,238.67 232.57,238.67 236.91,238.66 239.91,238.66" fill="none" stroke="#0072BD" stroke-width="1.60" stroke-dasharray="5 4.4" stroke-dashoffset="1.0" stroke-linejoin="round"/>
<polyline points="36.60,238.66 37.01,238.75 37.59,238.88 38.24,239.04 38.86,239.19 39.42,239.34 39.99,239.49 40.55,239.65 41.12,239.82 41.68,239.99 42.25,240.17 42.81,240.35 43.38,240.54 43.94,240.74 44.51,240.94 45.07,241.15 45.64,241.36 46.20,241.58 46.77,241.81 47.33,242.04 47.90,242.28 48.46,242.52 49.02,242.77 49.59,243.03 50.15,243.29 50.72,243.56 51.28,243.83 51.85,244.11 52.41,244.40 52.98,244.69 53.54,244.99 54.11,245.29 54.67,245.60 55.24,245.92 55.80,246.24 56.37,246.57 56.93,246.91 57.50,247.25 58.06,247.59 58.63,247.95 59.19,248.31 59.75,248.67 60.32,249.04 60.88,249.42 61.45,249.80 62.01,250.19 62.58,250.58 63.14,250.98 63.71,251.39 64.27,251.80 64.84,252.22 65.40,252.65 65.97,253.08 66.53,253.52 67.10,253.96 67.66,254.41 68.23,254.86 68.79,255.33 69.36,255.79 69.92,256.27 70.48,256.75 71.05,257.23 71.61,257.72 72.18,258.22 72.74,258.72 73.31,259.23 73.87,259.75 74.44,260.27 75.00,260.80 75.57,261.33 76.13,261.87 76.70,262.42 77.26,262.97 77.83,263.53 78.39,264.09 78.96,264.66 79.52,265.23 80.09,265.81 80.65,266.39 81.22,266.98 81.78,267.60 82.34,268.21 82.91,268.83 83.47,269.50 84.04,270.25 84.60,271.07 85.17,271.94 85.73,272.93 86.30,274.11 86.86,275.51 87.43,277.08 87.99,278.80 88.56,280.62 89.12,282.60 89.67,284.72 90.24,286.91 90.82,289.06 91.38,291.17 91.95,293.27 92.56,295.38 93.30,297.50 94.17,299.64 95.15,301.78 96.22,303.96 97.37,306.19 98.66,308.58 100.09,311.08 101.51,313.49 102.79,315.59 103.90,317.32 104.91,318.81 105.82,320.07 106.63,321.14 107.30,321.93 107.86,322.46 108.36,322.90 108.89,323.42 109.45,324.06 110.02,324.72 110.58,325.39 111.15,326.07 111.71,326.74 112.28,327.42 112.84,328.11 113.41,328.80 113.97,329.50 114.54,330.21 115.10,330.92 115.66,331.63 116.23,332.36 116.79,333.08 117.36,333.82 117.92,334.56 118.49,335.30 119.05,336.05 119.62,336.81 120.18,337.57 120.75,338.34 121.31,339.12 121.88,339.90 122.44,340.68 123.01,341.49 123.57,342.32 124.14,343.13 124.70,343.89 125.26,344.60 125.82,345.28 126.38,345.91 126.96,346.46 127.58,347.03 128.22,347.60 128.85,347.96 129.44,347.91 129.98,347.35 130.49,346.40 130.98,345.18 131.48,343.81 131.98,342.37 132.47,340.78 132.97,338.90 133.51,336.57 134.12,333.46 134.78,329.74 135.43,326.06 136.00,323.07" fill="none" stroke="#F0AE14" stroke-width="1.60" stroke-dasharray="5 4.4" stroke-dashoffset="0.6" stroke-linejoin="round"/>
<polyline points="136.00,323.07 136.42,320.97 136.76,319.42 137.11,318.18 137.58,317.04 138.21,315.94 138.93,315.02 139.72,314.26 140.51,313.66 141.28,313.27 142.04,313.07 142.89,312.99 143.90,312.94 145.08,312.96 146.37,313.09 147.85,313.20 149.55,313.18 151.57,312.98 153.86,312.68 156.25,312.33 158.59,311.97 160.94,311.61 163.36,311.22 165.65,310.84 167.62,310.53 169.24,310.32 170.59,310.18 171.70,310.03 172.59,309.80 173.17,309.58 173.45,309.38 173.65,308.97 173.95,308.11 174.38,306.85 174.84,305.27 175.36,303.24 175.98,300.64 176.74,297.25 177.62,293.21 178.52,288.90 179.37,284.72 180.13,280.68 180.87,276.60 181.58,272.60 182.31,268.80 183.06,265.19 183.82,261.72 184.56,258.47 185.24,255.54 185.82,253.02 186.32,250.85 186.84,248.85 187.50,246.86 188.39,244.76 189.42,242.68 190.46,240.76 191.34,239.14 192.00,237.90 192.51,236.96 193.01,236.20 193.60,235.52 194.26,234.90 194.96,234.39 195.76,234.03 196.76,233.84 198.01,233.85 199.45,234.05 201.01,234.38 202.64,234.80 204.40,235.39 206.29,236.14 208.17,236.89 209.87,237.45 211.22,237.78 212.35,237.96 213.54,238.07 215.06,238.18 216.89,238.30 218.92,238.39 221.27,238.47 224.10,238.54 227.94,238.59 232.57,238.62 236.91,238.64 239.91,238.66" fill="none" stroke="#F0AE14" stroke-width="1.60" stroke-dasharray="5 4.4" stroke-dashoffset="0.6" stroke-linejoin="round"/>
<polyline points="36.60,238.66 37.01,238.75 37.59,238.88 38.24,239.04 38.86,239.19 39.42,239.34 39.99,239.49 40.55,239.65 41.12,239.82 41.68,239.99 42.25,240.17 42.81,240.35 43.38,240.54 43.94,240.74 44.51,240.94 45.07,241.15 45.64,241.36 46.20,241.58 46.77,241.81 47.33,242.04 47.90,242.28 48.46,242.52 49.02,242.77 49.59,243.03 50.15,243.29 50.72,243.56 51.28,243.83 51.85,244.11 52.41,244.40 52.98,244.69 53.54,244.99 54.11,245.29 54.67,245.60 55.24,245.92 55.80,246.24 56.37,246.57 56.93,246.91 57.50,247.25 58.06,247.59 58.63,247.95 59.19,248.31 59.75,248.67 60.32,249.04 60.88,249.42 61.45,249.80 62.01,250.19 62.58,250.58 63.14,250.98 63.71,251.39 64.27,251.80 64.84,252.22 65.40,252.65 65.97,253.08 66.53,253.52 67.10,253.96 67.66,254.41 68.23,254.86 68.79,255.33 69.36,255.79 69.92,256.27 70.48,256.75 71.05,257.23 71.61,257.72 72.18,258.22 72.74,258.72 73.31,259.23 73.87,259.75 74.44,260.27 75.00,260.80 75.57,261.33 76.13,261.87 76.70,262.42 77.26,262.97 77.83,263.53 78.39,264.09 78.96,264.66 79.52,265.23 80.09,265.81 80.65,266.39 81.22,266.98 81.78,267.60 82.34,268.21 82.91,268.83 83.47,269.50 84.04,270.25 84.60,271.07 85.17,271.94 85.73,272.93 86.30,274.11 86.86,275.51 87.43,277.08 87.99,278.80 88.56,280.62 89.12,282.60 89.67,284.72 90.24,286.91 90.82,289.06 91.38,291.17 91.95,293.27 92.56,295.38 93.30,297.50 94.17,299.64 95.15,301.78 96.22,303.96 97.37,306.19 98.66,308.58 100.09,311.08 101.51,313.49 102.79,315.59 103.90,317.32 104.91,318.81 105.82,320.07 106.63,321.14 107.30,321.93 107.86,322.46 108.36,322.90 108.89,323.42 109.45,324.06 110.02,324.72 110.58,325.39 111.15,326.07 111.71,326.74 112.28,327.42 112.84,328.11 113.41,328.80 113.97,329.50 114.54,330.21 115.10,330.92 115.66,331.63 116.23,332.36 116.79,333.08 117.36,333.82 117.92,334.56 118.49,335.30 119.05,336.05 119.62,336.81 120.18,337.57 120.75,338.34 121.31,339.12 121.88,339.90 122.44,340.68 123.01,341.49 123.57,342.32 124.14,343.13 124.70,343.89 125.26,344.60 125.82,345.28 126.38,345.91 126.96,346.46 127.58,347.03 128.22,347.60 128.85,347.96 129.44,347.91 129.98,347.35 130.49,346.40 130.98,345.18 131.48,343.81 131.98,342.37 132.47,340.78 132.97,338.90 133.51,336.57 134.12,333.47 134.78,329.76 135.43,326.08 136.00,323.07" fill="none" stroke="#77AC30" stroke-width="1.60" stroke-dasharray="5 4.4" stroke-dashoffset="0.3" stroke-linejoin="round"/>
<polyline points="136.00,323.07 136.44,320.90 136.81,319.24 137.17,317.92 137.58,316.80 138.05,315.85 138.55,315.17 139.08,314.69 139.61,314.38 140.11,314.32 140.60,314.51 141.16,314.75 141.87,314.87 142.77,314.83 143.80,314.72 144.95,314.56 146.16,314.38 147.40,314.19 148.69,313.96 150.13,313.71 151.81,313.42 153.86,313.09 156.19,312.73 158.59,312.35 160.85,311.97 163.00,311.59 165.12,311.20 167.09,310.84 168.75,310.53 170.06,310.32 171.08,310.18 171.90,310.03 172.59,309.80 173.09,309.58 173.38,309.38 173.62,308.97 173.95,308.11 174.38,306.85 174.84,305.27 175.36,303.24 175.98,300.64 176.74,297.25 177.62,293.21 178.52,288.90 179.37,284.72 180.13,280.68 180.87,276.60 181.58,272.60 182.31,268.80 183.06,265.19 183.82,261.72 184.56,258.47 185.24,255.54 185.82,253.01 186.32,250.81 186.84,248.80 187.50,246.86 188.39,244.89 189.42,242.98 190.46,241.27 191.34,239.86 192.00,238.86 192.51,238.18 193.01,237.67 193.60,237.21 194.32,236.76 195.10,236.40 195.92,236.14 196.76,236.01 197.62,236.04 198.50,236.22 199.42,236.47 200.38,236.73 201.31,237.01 202.24,237.34 203.31,237.66 204.67,237.93 205.99,238.14 207.31,238.30 209.34,238.44 212.80,238.54 218.88,238.60 226.86,238.64 234.59,238.65 239.91,238.66" fill="none" stroke="#77AC30" stroke-width="1.60" stroke-dasharray="5 4.4" stroke-dashoffset="4.7" stroke-linejoin="round"/>
<polyline points="36.60,238.66 37.01,238.75 37.59,238.88 38.24,239.04 38.86,239.19 39.42,239.34 39.99,239.49 40.55,239.65 41.12,239.82 41.68,239.99 42.25,240.17 42.81,240.35 43.38,240.54 43.94,240.74 44.51,240.94 45.07,241.15 45.64,241.36 46.20,241.58 46.77,241.81 47.33,242.04 47.90,242.28 48.46,242.52 49.02,242.77 49.59,243.03 50.15,243.29 50.72,243.56 51.28,243.83 51.85,244.11 52.41,244.40 52.98,244.69 53.54,244.99 54.11,245.29 54.67,245.60 55.24,245.92 55.80,246.24 56.37,246.57 56.93,246.91 57.50,247.25 58.06,247.59 58.63,247.95 59.19,248.31 59.75,248.67 60.32,249.04 60.88,249.42 61.45,249.80 62.01,250.19 62.58,250.58 63.14,250.98 63.71,251.39 64.27,251.80 64.84,252.22 65.40,252.65 65.97,253.08 66.53,253.52 67.10,253.96 67.66,254.41 68.23,254.86 68.79,255.33 69.36,255.79 69.92,256.27 70.48,256.75 71.05,257.23 71.61,257.72 72.18,258.22 72.74,258.72 73.31,259.23 73.87,259.75 74.44,260.27 75.00,260.80 75.57,261.33 76.13,261.87 76.70,262.42 77.26,262.97 77.83,263.53 78.39,264.09 78.96,264.66 79.52,265.23 80.09,265.81 80.65,266.39 81.22,266.98 81.78,267.60 82.34,268.21 82.91,268.83 83.47,269.50 84.04,270.25 84.60,271.07 85.17,271.94 85.73,272.93 86.30,274.11 86.86,275.51 87.43,277.08 87.99,278.80 88.56,280.62 89.12,282.60 89.67,284.72 90.24,286.91 90.82,289.06 91.38,291.17 91.95,293.27 92.56,295.38 93.30,297.50 94.17,299.64 95.15,301.78 96.22,303.96 97.37,306.19 98.66,308.58 100.09,311.08 101.51,313.49 102.79,315.59 103.90,317.32 104.91,318.81 105.82,320.07 106.63,321.14 107.30,321.93 107.86,322.46 108.36,322.90 108.89,323.42 109.45,324.06 110.02,324.72 110.58,325.39 111.15,326.07 111.71,326.74 112.28,327.42 112.84,328.11 113.41,328.80 113.97,329.50 114.54,330.21 115.10,330.92 115.66,331.63 116.23,332.36 116.79,333.08 117.36,333.82 117.92,334.56 118.49,335.30 119.05,336.05 119.62,336.81 120.18,337.57 120.75,338.34 121.31,339.12 121.88,339.90 122.44,340.68 123.01,341.49 123.57,342.32 124.14,343.13 124.70,343.89 125.26,344.60 125.82,345.28 126.38,345.91 126.96,346.46 127.58,347.03 128.22,347.60 128.85,347.96 129.44,347.91 129.98,347.35 130.49,346.40 130.98,345.18 131.48,343.81 131.98,342.37 132.47,340.78 132.97,338.90 133.51,336.57 134.12,333.41 134.78,329.61 135.43,325.91 136.00,323.07" fill="none" stroke="#C91C42" stroke-width="1.60" stroke-dasharray="5 4.4" stroke-dashoffset="0.0" stroke-linejoin="round"/>
<polyline points="136.00,323.07 136.42,321.41 136.76,320.50 137.11,319.91 137.58,319.21 138.18,318.30 138.86,317.40 139.64,316.56 140.51,315.83 141.43,315.23 142.39,314.73 143.55,314.30 145.03,313.90 146.97,313.56 149.27,313.27 151.70,313.00 154.07,312.70 156.38,312.35 158.73,311.97 161.00,311.60 163.10,311.25 165.05,310.91 166.89,310.57 168.53,310.27 169.88,310.04 170.88,309.95 171.58,309.95 172.10,309.94 172.59,309.80 173.01,309.62 173.31,309.41 173.59,308.98 173.95,308.11 174.38,306.85 174.84,305.27 175.36,303.24 175.98,300.64 176.74,297.25 177.62,293.21 178.52,288.90 179.37,284.72 180.13,280.68 180.87,276.60 181.58,272.60 182.31,268.80 183.06,265.19 183.82,261.72 184.56,258.47 185.24,255.54 185.82,252.97 186.33,250.70 186.86,248.68 187.50,246.86 188.35,245.23 189.32,243.83 190.29,242.61 191.12,241.55 191.72,240.67 192.19,239.96 192.63,239.39 193.15,238.90 193.78,238.50 194.48,238.20 195.18,237.98 195.86,237.81 196.45,237.70 197.00,237.65 197.60,237.65 198.34,237.69 199.26,237.80 200.29,237.97 201.43,238.15 202.64,238.30 203.34,238.40 203.75,238.47 205.01,238.54 208.28,238.59 215.11,238.62 224.45,238.64 233.62,238.65 239.91,238.66" fill="none" stroke="#C91C42" stroke-width="1.60" stroke-dasharray="5 4.4" stroke-dashoffset="0.0" stroke-linejoin="round"/>
<rect x="155.5" y="366.5" width="72" height="6" fill="#fff" fill-opacity="0.6"/>
<clipPath id="c2"><rect x="163.10" y="318.70" width="98.50" height="45.90"/></clipPath>
<rect x="163.10" y="318.70" width="98.50" height="45.90" fill="#fff"/>
<g clip-path="url(#c2)">
<polyline points="163.10,349.90 261.60,349.90" fill="none" stroke="#111" stroke-width="1.50" stroke-linejoin="round"/>
<polyline points="164.92,397.27 165.77,392.50 166.98,385.62 168.38,377.78 169.79,370.14 171.06,363.83 172.17,359.03 173.25,354.96 174.28,351.38 175.29,348.05 176.25,344.72 177.15,341.35 177.99,338.09 178.81,335.03 179.63,332.21 180.50,329.71 181.40,327.53 182.33,325.63 183.27,324.00 184.23,322.63 185.22,321.52 186.19,320.63 187.15,319.98 188.14,319.59 189.21,319.52 190.41,319.81 191.74,320.46 193.19,321.44 194.72,322.74 196.32,324.36 197.96,326.30 199.67,328.78 201.47,331.84 203.31,335.08 205.14,338.14 206.93,340.63 208.62,342.50 210.25,343.99 211.88,345.20 213.58,346.22 215.42,347.11 217.32,347.85 219.21,348.39 221.25,348.77 223.56,349.05 226.28,349.30 229.54,349.47 233.25,349.53 237.22,349.53 241.26,349.50 245.16,349.50 249.24,349.51 253.62,349.51 257.85,349.51 261.47,349.50 264.04,349.50" fill="none" stroke="#0072BD" stroke-width="1.50" stroke-dasharray="3.5 3.2" stroke-dashoffset="0.0" stroke-linejoin="round"/>
<polyline points="167.28,397.27 168.05,392.51 169.14,385.65 170.41,377.83 171.72,370.18 172.94,363.83 174.02,358.81 175.03,354.38 176.07,350.47 177.23,347.04 178.61,344.04 180.21,341.48 181.98,339.40 183.89,337.78 185.92,336.60 188.05,335.85 190.28,335.62 192.62,335.93 195.07,336.62 197.64,337.55 200.32,338.58 203.23,339.86 206.36,341.50 209.55,343.25 212.63,344.86 215.42,346.09 217.74,346.86 219.69,347.35 221.56,347.65 223.66,347.88 226.28,348.13 229.54,348.42 233.25,348.65 237.22,348.85 241.26,349.01 245.16,349.16 249.24,349.28 253.62,349.36 257.85,349.42 261.47,349.46 264.04,349.50" fill="none" stroke="#F0AE14" stroke-width="1.50" stroke-dasharray="3.5 3.2" stroke-dashoffset="2.0" stroke-linejoin="round"/>
<polyline points="169.64,397.27 170.40,392.46 171.48,385.52 172.73,377.64 174.05,370.01 175.30,363.83 176.49,359.18 177.70,355.24 178.93,351.92 180.18,349.13 181.44,346.77 182.72,344.92 184.00,343.65 185.31,342.82 186.66,342.31 188.05,341.99 189.48,341.94 190.93,342.25 192.43,342.80 193.98,343.43 195.60,344.04 197.17,344.66 198.70,345.39 200.34,346.14 202.24,346.86 204.57,347.45 207.05,347.92 209.56,348.32 212.54,348.66 216.40,348.93 221.56,349.16 229.10,349.32 238.76,349.41 248.88,349.45 257.85,349.48 264.04,349.50" fill="none" stroke="#77AC30" stroke-width="1.50" stroke-dasharray="3.5 3.2" stroke-dashoffset="1.0" stroke-linejoin="round"/>
<polyline points="170.58,397.27 171.38,392.41 172.51,385.36 173.81,377.39 175.12,369.79 176.25,363.83 177.17,359.67 177.98,356.44 178.76,353.93 179.58,351.92 180.50,350.18 181.55,348.85 182.68,348.06 183.86,347.64 185.03,347.38 186.16,347.11 187.17,346.84 188.09,346.68 189.03,346.63 190.08,346.66 191.35,346.77 192.86,346.99 194.53,347.35 196.35,347.76 198.28,348.16 200.32,348.48 201.86,348.71 202.91,348.90 204.38,349.05 207.15,349.18 212.12,349.30 220.77,349.38 232.49,349.43 245.08,349.46 256.34,349.48 264.04,349.50" fill="none" stroke="#C91C42" stroke-width="1.50" stroke-dasharray="3.5 3.2" stroke-dashoffset="3.0" stroke-linejoin="round"/>
</g>
<line x1="163.10" y1="318.70" x2="163.10" y2="364.60" stroke="#6e6e6e" stroke-width="0.80"/>
<line x1="163.10" y1="364.60" x2="261.60" y2="364.60" stroke="#6e6e6e" stroke-width="0.80"/>
<line x1="183.80" y1="364.60" x2="183.80" y2="363.00" stroke="#6e6e6e" stroke-width="0.80"/>
<text x="183.80" y="371.20" font-size="6.10" text-anchor="middle" font-weight="normal" fill="#333">7</text>
<line x1="207.20" y1="364.60" x2="207.20" y2="363.00" stroke="#6e6e6e" stroke-width="0.80"/>
<text x="207.20" y="371.20" font-size="6.10" text-anchor="middle" font-weight="normal" fill="#333">7.5</text>
<line x1="231.40" y1="364.60" x2="231.40" y2="363.00" stroke="#6e6e6e" stroke-width="0.80"/>
<text x="231.40" y="371.20" font-size="6.10" text-anchor="middle" font-weight="normal" fill="#333">8</text>
<line x1="254.70" y1="364.60" x2="254.70" y2="363.00" stroke="#6e6e6e" stroke-width="0.80"/>
<text x="254.70" y="371.20" font-size="6.10" text-anchor="middle" font-weight="normal" fill="#333">8.5</text>
<line x1="163.10" y1="329.00" x2="164.70" y2="329.00" stroke="#6e6e6e" stroke-width="0.80"/>
<text x="161.70" y="331.10" font-size="6.10" text-anchor="end" font-weight="normal" fill="#333">38</text>
<line x1="163.10" y1="342.70" x2="164.70" y2="342.70" stroke="#6e6e6e" stroke-width="0.80"/>
<text x="161.70" y="344.80" font-size="6.10" text-anchor="end" font-weight="normal" fill="#333">36</text>
<line x1="163.10" y1="356.30" x2="164.70" y2="356.30" stroke="#6e6e6e" stroke-width="0.80"/>
<text x="161.70" y="358.40" font-size="6.10" text-anchor="end" font-weight="normal" fill="#333">34</text>
<rect x="266.8" y="372" width="10" height="16" fill="#fff"/>
<rect x="313.40" y="226.20" width="225.10" height="145.10" fill="none" stroke="#6e6e6e" stroke-width="0.80"/>
<line x1="313.40" y1="371.30" x2="313.40" y2="369.00" stroke="#6e6e6e" stroke-width="0.80"/>
<line x1="313.40" y1="226.20" x2="313.40" y2="228.50" stroke="#6e6e6e" stroke-width="0.80"/>
<text x="313.40" y="384.40" font-size="9.70" text-anchor="middle" font-weight="normal" fill="#262626">0</text>
<line x1="358.42" y1="371.30" x2="358.42" y2="369.00" stroke="#6e6e6e" stroke-width="0.80"/>
<line x1="358.42" y1="226.20" x2="358.42" y2="228.50" stroke="#6e6e6e" stroke-width="0.80"/>
<text x="358.42" y="384.40" font-size="9.70" text-anchor="middle" font-weight="normal" fill="#262626">2</text>
<line x1="403.44" y1="371.30" x2="403.44" y2="369.00" stroke="#6e6e6e" stroke-width="0.80"/>
<line x1="403.44" y1="226.20" x2="403.44" y2="228.50" stroke="#6e6e6e" stroke-width="0.80"/>
<text x="403.44" y="384.40" font-size="9.70" text-anchor="middle" font-weight="normal" fill="#262626">4</text>
<line x1="448.46" y1="371.30" x2="448.46" y2="369.00" stroke="#6e6e6e" stroke-width="0.80"/>
<line x1="448.46" y1="226.20" x2="448.46" y2="228.50" stroke="#6e6e6e" stroke-width="0.80"/>
<text x="448.46" y="384.40" font-size="9.70" text-anchor="middle" font-weight="normal" fill="#262626">6</text>
<line x1="493.48" y1="371.30" x2="493.48" y2="369.00" stroke="#6e6e6e" stroke-width="0.80"/>
<line x1="493.48" y1="226.20" x2="493.48" y2="228.50" stroke="#6e6e6e" stroke-width="0.80"/>
<text x="493.48" y="384.40" font-size="9.70" text-anchor="middle" font-weight="normal" fill="#262626">8</text>
<line x1="538.50" y1="371.30" x2="538.50" y2="369.00" stroke="#6e6e6e" stroke-width="0.80"/>
<line x1="538.50" y1="226.20" x2="538.50" y2="228.50" stroke="#6e6e6e" stroke-width="0.80"/>
<text x="538.50" y="384.40" font-size="9.70" text-anchor="middle" font-weight="normal" fill="#262626">10</text>
<line x1="313.40" y1="371.30" x2="315.70" y2="371.30" stroke="#6e6e6e" stroke-width="0.80"/>
<line x1="538.50" y1="371.30" x2="536.20" y2="371.30" stroke="#6e6e6e" stroke-width="0.80"/>
<text x="310.00" y="375.50" font-size="9.70" text-anchor="end" font-weight="normal" fill="#262626">20</text>
<line x1="313.40" y1="344.92" x2="315.70" y2="344.92" stroke="#6e6e6e" stroke-width="0.80"/>
<line x1="538.50" y1="344.92" x2="536.20" y2="344.92" stroke="#6e6e6e" stroke-width="0.80"/>
<text x="310.00" y="349.12" font-size="9.70" text-anchor="end" font-weight="normal" fill="#262626">30</text>
<line x1="313.40" y1="318.54" x2="315.70" y2="318.54" stroke="#6e6e6e" stroke-width="0.80"/>
<line x1="538.50" y1="318.54" x2="536.20" y2="318.54" stroke="#6e6e6e" stroke-width="0.80"/>
<text x="310.00" y="322.74" font-size="9.70" text-anchor="end" font-weight="normal" fill="#262626">40</text>
<line x1="313.40" y1="292.15" x2="315.70" y2="292.15" stroke="#6e6e6e" stroke-width="0.80"/>
<line x1="538.50" y1="292.15" x2="536.20" y2="292.15" stroke="#6e6e6e" stroke-width="0.80"/>
<text x="310.00" y="296.35" font-size="9.70" text-anchor="end" font-weight="normal" fill="#262626">50</text>
<line x1="313.40" y1="265.77" x2="315.70" y2="265.77" stroke="#6e6e6e" stroke-width="0.80"/>
<line x1="538.50" y1="265.77" x2="536.20" y2="265.77" stroke="#6e6e6e" stroke-width="0.80"/>
<text x="310.00" y="269.97" font-size="9.70" text-anchor="end" font-weight="normal" fill="#262626">60</text>
<line x1="313.40" y1="239.39" x2="315.70" y2="239.39" stroke="#6e6e6e" stroke-width="0.80"/>
<line x1="538.50" y1="239.39" x2="536.20" y2="239.39" stroke="#6e6e6e" stroke-width="0.80"/>
<text x="310.00" y="243.59" font-size="9.70" text-anchor="end" font-weight="normal" fill="#262626">70</text>
<text x="426.25" y="397.90" font-size="10.10" text-anchor="middle" font-weight="normal" fill="#262626">Time (s)</text>
<text x="425.95" y="222.80" font-size="10.10" text-anchor="middle" font-weight="bold" fill="#000">Motion of The Third Joint</text>
<text x="0" y="0" font-size="10.00" text-anchor="middle" fill="#262626" transform="translate(295.10 298.75) rotate(-90)">Position [deg]</text>
<polyline points="313.40,363.39 315.65,362.41 317.90,361.21 320.15,359.80 322.40,358.17 324.65,356.33 326.91,354.27 329.16,351.99 331.41,349.50 333.66,346.79 335.91,343.86 338.16,340.72 340.41,337.36 342.66,333.79 344.91,330.00 347.16,325.99 349.42,321.77 351.67,317.33 353.92,312.67 356.17,307.80 358.42,302.71 358.42,288.99 360.67,287.88 362.92,286.62 365.17,285.21 367.42,283.65 369.67,281.93 371.93,280.06 374.18,278.04 376.43,275.86 378.68,273.53 380.93,271.05 383.18,268.41 385.43,265.62 387.68,262.68 389.93,259.59 392.18,256.34 394.44,252.94 396.69,249.39 398.94,245.68 401.19,241.82 403.44,237.81 403.44,324.60 448.46,324.60 448.46,363.39 515.99,363.39" fill="none" stroke="#000" stroke-width="1.70" stroke-linejoin="round"/>
<polyline points="313.40,363.39 313.98,363.14 314.82,362.79 315.65,362.41 316.40,362.03 317.15,361.63 317.90,361.21 318.65,360.77 319.40,360.29 320.15,359.80 320.90,359.28 321.65,358.74 322.40,358.17 323.15,357.58 323.90,356.97 324.65,356.33 325.41,355.67 326.16,354.98 326.91,354.27 327.66,353.53 328.41,352.77 329.16,351.99 329.91,351.18 330.66,350.35 331.41,349.50 332.16,348.62 332.91,347.72 333.66,346.79 334.41,345.84 335.16,344.86 335.91,343.86 336.66,342.84 337.41,341.79 338.16,340.72 338.91,339.63 339.66,338.51 340.41,337.36 341.16,336.19 341.91,335.00 342.66,333.79 343.41,332.55 344.16,331.28 344.91,330.00 345.66,328.68 346.41,327.35 347.16,325.99 347.92,324.61 348.67,323.20 349.42,321.77 350.17,320.31 350.92,318.83 351.67,317.33 352.42,315.80 353.17,314.25 353.92,312.67 354.67,311.07 355.42,309.44 356.17,307.80 356.99,306.15 357.80,304.48 358.42,302.71" fill="none" stroke="#0072BD" stroke-width="1.60" stroke-dasharray="5 4.4" stroke-dashoffset="0.0" stroke-linejoin="round"/>
<polyline points="358.42,302.71 358.70,300.76 358.77,298.70 358.87,296.64 359.06,294.52 359.28,292.40 359.55,290.57 359.85,289.15 360.20,288.03 360.67,287.14 361.34,286.56 362.13,286.20 362.92,285.82 363.67,285.28 364.42,284.70 365.17,284.24 365.92,284.01 366.67,283.89 367.42,283.65 368.17,283.17 368.92,282.56 369.67,281.93 370.43,281.33 371.18,280.70 371.93,280.06 372.68,279.40 373.43,278.73 374.18,278.04 374.93,277.33 375.68,276.60 376.43,275.86 377.18,275.10 377.93,274.33 378.68,273.53 379.43,272.72 380.18,271.89 380.93,271.05 381.68,270.19 382.43,269.31 383.18,268.41 383.93,267.50 384.68,266.57 385.43,265.62 386.18,264.66 386.93,263.68 387.68,262.68 388.43,261.67 389.18,260.64 389.93,259.59 390.68,258.52 391.43,257.44 392.18,256.34 392.94,255.22 393.69,254.09 394.44,252.94 395.19,251.77 395.94,250.59 396.69,249.39 397.44,248.17 398.19,246.93 398.94,245.68 399.66,244.41 400.39,243.12 401.19,241.82 402.22,240.35 403.33,238.85 404.12,237.81 404.40,238.40 404.62,239.40 404.93,240.81 405.28,242.54 405.60,244.50 405.88,246.44 406.15,248.49 406.42,251.11 406.70,254.80 406.99,259.96 407.29,266.24 407.60,272.98 407.90,279.50 408.21,286.00 408.53,292.71 408.84,299.02 409.10,304.30 409.32,308.28 409.50,311.33 409.66,313.78 409.80,316.00 409.93,317.83 410.03,319.16 410.12,320.42 410.20,322.00 410.26,324.05 410.29,326.33 410.33,328.72 410.40,331.10 410.46,333.53 410.52,336.04 410.65,338.46 410.90,340.60 411.31,342.37 411.84,343.89 412.45,345.26 413.10,346.60 413.84,347.81 414.68,348.86 415.50,350.01 416.20,351.50 416.70,353.71 417.09,356.41 417.45,358.91 417.90,360.50 418.49,360.99 419.16,360.76 419.82,359.97 420.40,358.80 420.87,357.14 421.28,354.94 421.65,352.50 422.00,350.10 422.30,347.78 422.55,345.40 422.82,342.99 423.20,340.60 423.73,338.06 424.36,335.41 425.01,332.98 425.60,331.10 426.06,329.98 426.46,329.40 426.88,329.05 427.40,328.60 428.05,328.00 428.79,327.40 429.58,326.83 430.40,326.30 431.25,325.83 432.14,325.39 433.06,324.99 434.00,324.60 434.98,324.21 436.01,323.83 437.03,323.48 438.00,323.20 438.91,322.98 439.78,322.80 440.64,322.70 441.50,322.70 442.39,322.85 443.28,323.12 444.16,323.43 445.00,323.70 445.84,323.93 446.69,324.16 447.44,324.35 448.00,324.50 448.29,324.56 448.37,324.54 448.39,324.54 448.50,324.60 448.74,324.72 449.04,324.87 449.34,325.11 449.60,325.50 449.80,325.81 449.96,326.09 450.12,326.82 450.30,328.50 450.51,331.52 450.73,335.53 450.96,339.90 451.20,344.00 451.44,347.91 451.67,351.89 451.93,355.55 452.20,358.50 452.49,360.54 452.79,361.91 453.12,362.89 453.50,363.80 453.93,364.65 454.41,365.29 454.93,365.79 455.50,366.20 455.98,366.51 456.41,366.71 457.06,366.80 458.20,366.80 459.81,366.68 461.78,366.44 464.24,366.16 467.30,365.90 471.43,365.67 476.41,365.45 481.38,365.22 485.50,365.00 488.36,364.76 490.48,364.52 492.36,364.29 494.50,364.10 497.02,363.96 499.66,363.85 502.34,363.77 505.00,363.70 507.87,363.65 510.91,363.62 513.61,363.61 515.50,363.60" fill="none" stroke="#0072BD" stroke-width="1.60" stroke-dasharray="5 4.4" stroke-dashoffset="1.6" stroke-linejoin="round"/>
<polyline points="313.40,363.39 313.98,363.14 314.82,362.79 315.65,362.41 316.40,362.03 317.15,361.63 317.90,361.21 318.65,360.77 319.40,360.29 320.15,359.80 320.90,359.28 321.65,358.74 322.40,358.17 323.15,357.58 323.90,356.97 324.65,356.33 325.41,355.67 326.16,354.98 326.91,354.27 327.66,353.53 328.41,352.77 329.16,351.99 329.91,351.18 330.66,350.35 331.41,349.50 332.16,348.62 332.91,347.72 333.66,346.79 334.41,345.84 335.16,344.86 335.91,343.86 336.66,342.84 337.41,341.79 338.16,340.72 338.91,339.63 339.66,338.51 340.41,337.36 341.16,336.19 341.91,335.00 342.66,333.79 343.41,332.55 344.16,331.28 344.91,330.00 345.66,328.68 346.41,327.35 347.16,325.99 347.92,324.61 348.67,323.20 349.42,321.77 350.17,320.31 350.92,318.83 351.67,317.33 352.42,315.80 353.17,314.25 353.92,312.67 354.67,311.07 355.42,309.44 356.17,307.80 356.99,306.15 357.80,304.48 358.42,302.71" fill="none" stroke="#F0AE14" stroke-width="1.60" stroke-dasharray="5 4.4" stroke-dashoffset="0.6" stroke-linejoin="round"/>
<polyline points="358.42,302.71 358.70,300.76 358.77,298.70 358.87,296.64 359.06,294.52 359.28,292.40 359.55,290.57 359.85,289.15 360.20,288.03 360.67,287.14 361.34,286.56 362.13,286.20 362.92,285.82 363.67,285.28 364.42,284.70 365.17,284.24 365.92,284.01 366.67,283.89 367.42,283.65 368.17,283.17 368.92,282.56 369.67,281.93 370.43,281.33 371.18,280.70 371.93,280.06 372.68,279.40 373.43,278.73 374.18,278.04 374.93,277.33 375.68,276.60 376.43,275.86 377.18,275.10 377.93,274.33 378.68,273.53 379.43,272.72 380.18,271.89 380.93,271.05 381.68,270.19 382.43,269.31 383.18,268.41 383.93,267.50 384.68,266.57 385.43,265.62 386.18,264.66 386.93,263.68 387.68,262.68 388.43,261.67 389.18,260.64 389.93,259.59 390.68,258.52 391.43,257.44 392.18,256.34 392.94,255.22 393.69,254.09 394.44,252.94 395.19,251.77 395.94,250.59 396.69,249.39 397.44,248.17 398.19,246.93 398.94,245.68 399.66,244.41 400.39,243.12 401.19,241.82 402.22,240.35 403.33,238.85 404.12,237.81 404.40,238.40 404.62,239.40 404.93,240.81 405.28,242.54 405.60,244.50 405.88,246.44 406.15,248.49 406.42,251.11 406.70,254.80 406.99,259.96 407.29,266.24 407.60,272.98 407.90,279.50 408.21,286.00 408.53,292.71 408.84,299.02 409.10,304.30 409.32,308.28 409.50,311.33 409.66,313.78 409.80,316.00 409.90,317.97 409.97,319.54 410.06,320.84 410.20,322.00 410.42,323.07 410.69,323.98 410.99,324.65 411.30,325.00 411.60,324.88 411.91,324.37 412.24,323.75 412.60,323.30 413.02,322.97 413.48,322.64 413.92,322.52 414.30,322.80 414.52,323.69 414.65,325.03 414.82,326.45 415.20,327.60 415.88,328.42 416.76,329.09 417.68,329.59 418.50,329.90 419.14,330.01 419.69,329.93 420.24,329.69 420.90,329.30 421.70,328.68 422.57,327.84 423.49,326.98 424.40,326.30 425.21,325.86 425.98,325.54 426.86,325.31 428.00,325.10 429.42,324.91 431.04,324.78 432.89,324.67 435.00,324.60 437.67,324.56 440.78,324.57 443.75,324.59 446.00,324.60 447.26,324.58 447.87,324.54 448.17,324.54 448.50,324.60 448.88,324.71 449.16,324.86 449.39,325.11 449.60,325.50 449.80,325.81 449.96,326.09 450.12,326.82 450.30,328.50 450.51,331.52 450.73,335.53 450.96,339.90 451.20,344.00 451.44,347.89 451.69,351.84 451.95,355.50 452.20,358.50 452.45,360.69 452.69,362.28 452.94,363.47 453.20,364.50 453.46,365.40 453.73,366.06 454.03,366.46 454.40,366.60 454.83,366.36 455.31,365.79 455.86,365.10 456.50,364.50 457.22,364.00 458.01,363.49 458.92,363.06 460.00,362.80 461.14,362.77 462.34,362.92 463.88,363.13 466.00,363.30 468.43,363.42 471.16,363.54 474.80,363.64 480.00,363.70 488.20,363.71 498.62,363.67 508.62,363.63 515.50,363.60" fill="none" stroke="#F0AE14" stroke-width="1.60" stroke-dasharray="5 4.4" stroke-dashoffset="0.9" stroke-linejoin="round"/>
<polyline points="313.40,363.39 313.98,363.14 314.82,362.79 315.65,362.41 316.40,362.03 317.15,361.63 317.90,361.21 318.65,360.77 319.40,360.29 320.15,359.80 320.90,359.28 321.65,358.74 322.40,358.17 323.15,357.58 323.90,356.97 324.65,356.33 325.41,355.67 326.16,354.98 326.91,354.27 327.66,353.53 328.41,352.77 329.16,351.99 329.91,351.18 330.66,350.35 331.41,349.50 332.16,348.62 332.91,347.72 333.66,346.79 334.41,345.84 335.16,344.86 335.91,343.86 336.66,342.84 337.41,341.79 338.16,340.72 338.91,339.63 339.66,338.51 340.41,337.36 341.16,336.19 341.91,335.00 342.66,333.79 343.41,332.55 344.16,331.28 344.91,330.00 345.66,328.68 346.41,327.35 347.16,325.99 347.92,324.61 348.67,323.20 349.42,321.77 350.17,320.31 350.92,318.83 351.67,317.33 352.42,315.80 353.17,314.25 353.92,312.67 354.67,311.07 355.42,309.44 356.17,307.80 356.99,306.15 357.80,304.48 358.42,302.71" fill="none" stroke="#77AC30" stroke-width="1.60" stroke-dasharray="5 4.4" stroke-dashoffset="0.3" stroke-linejoin="round"/>
<polyline points="358.42,302.71 358.70,300.76 358.77,298.70 358.87,296.64 359.06,294.52 359.28,292.40 359.55,290.57 359.85,289.15 360.20,288.03 360.67,287.14 361.34,286.56 362.13,286.20 362.92,285.82 363.67,285.28 364.42,284.70 365.17,284.24 365.92,284.01 366.67,283.89 367.42,283.65 368.17,283.17 368.92,282.56 369.67,281.93 370.43,281.33 371.18,280.70 371.93,280.06 372.68,279.40 373.43,278.73 374.18,278.04 374.93,277.33 375.68,276.60 376.43,275.86 377.18,275.10 377.93,274.33 378.68,273.53 379.43,272.72 380.18,271.89 380.93,271.05 381.68,270.19 382.43,269.31 383.18,268.41 383.93,267.50 384.68,266.57 385.43,265.62 386.18,264.66 386.93,263.68 387.68,262.68 388.43,261.67 389.18,260.64 389.93,259.59 390.68,258.52 391.43,257.44 392.18,256.34 392.94,255.22 393.69,254.09 394.44,252.94 395.19,251.77 395.94,250.59 396.69,249.39 397.44,248.17 398.19,246.93 398.94,245.68 399.66,244.41 400.39,243.12 401.19,241.82 402.22,240.35 403.33,238.85 404.12,237.81 404.40,238.40 404.62,239.40 404.93,240.81 405.28,242.54 405.60,244.50 405.88,246.44 406.15,248.49 406.42,251.11 406.70,254.80 406.99,259.96 407.29,266.24 407.60,272.98 407.90,279.50 408.21,286.00 408.53,292.71 408.84,299.02 409.10,304.30 409.32,308.28 409.50,311.33 409.66,313.78 409.80,316.00 409.92,317.82 410.02,319.14 410.11,320.39 410.20,322.00 410.26,324.22 410.29,326.78 410.35,329.32 410.50,331.50 410.76,333.37 411.11,335.06 411.50,336.35 411.90,337.00 412.31,336.59 412.74,335.38 413.21,334.09 413.70,333.50 414.25,333.88 414.84,334.81 415.44,335.95 416.00,337.00 416.46,338.06 416.87,339.24 417.31,340.20 417.90,340.60 418.71,340.29 419.67,339.47 420.65,338.31 421.50,337.00 422.15,335.39 422.69,333.45 423.21,331.51 423.80,329.90 424.46,328.70 425.14,327.73 425.91,326.95 426.80,326.30 427.79,325.81 428.86,325.50 430.10,325.29 431.60,325.10 433.50,324.94 435.73,324.83 437.98,324.76 440.00,324.70 441.75,324.65 443.37,324.62 444.80,324.61 446.00,324.60 446.90,324.57 447.56,324.54 448.06,324.53 448.50,324.60 448.88,324.71 449.16,324.86 449.39,325.11 449.60,325.50 449.80,325.81 449.96,326.09 450.12,326.82 450.30,328.50 450.51,331.52 450.73,335.53 450.96,339.90 451.20,344.00 451.44,347.94 451.69,351.97 451.94,355.64 452.20,358.50 452.43,360.32 452.64,361.36 452.91,361.98 453.30,362.50 453.79,362.92 454.34,363.09 455.06,363.14 456.00,363.20 456.99,363.26 458.04,363.27 459.58,363.27 462.00,363.30 465.25,363.37 469.16,363.46 473.99,363.54 480.00,363.60 488.48,363.62 498.88,363.62 508.71,363.61 515.50,363.60" fill="none" stroke="#77AC30" stroke-width="1.60" stroke-dasharray="5 4.4" stroke-dashoffset="2.2" stroke-linejoin="round"/>
<polyline points="313.40,363.39 313.98,363.14 314.82,362.79 315.65,362.41 316.40,362.03 317.15,361.63 317.90,361.21 318.65,360.77 319.40,360.29 320.15,359.80 320.90,359.28 321.65,358.74 322.40,358.17 323.15,357.58 323.90,356.97 324.65,356.33 325.41,355.67 326.16,354.98 326.91,354.27 327.66,353.53 328.41,352.77 329.16,351.99 329.91,351.18 330.66,350.35 331.41,349.50 332.16,348.62 332.91,347.72 333.66,346.79 334.41,345.84 335.16,344.86 335.91,343.86 336.66,342.84 337.41,341.79 338.16,340.72 338.91,339.63 339.66,338.51 340.41,337.36 341.16,336.19 341.91,335.00 342.66,333.79 343.41,332.55 344.16,331.28 344.91,330.00 345.66,328.68 346.41,327.35 347.16,325.99 347.92,324.61 348.67,323.20 349.42,321.77 350.17,320.31 350.92,318.83 351.67,317.33 352.42,315.80 353.17,314.25 353.92,312.67 354.67,311.07 355.42,309.44 356.17,307.80 356.99,306.15 357.80,304.48 358.42,302.71" fill="none" stroke="#C91C42" stroke-width="1.60" stroke-dasharray="5 4.4" stroke-dashoffset="0.0" stroke-linejoin="round"/>
<polyline points="358.42,302.71 358.70,300.76 358.77,298.70 358.87,296.64 359.06,294.52 359.28,292.40 359.55,290.57 359.85,289.15 360.20,288.03 360.67,287.14 361.34,286.56 362.13,286.20 362.92,285.82 363.67,285.28 364.42,284.70 365.17,284.24 365.92,284.01 366.67,283.89 367.42,283.65 368.17,283.17 368.92,282.56 369.67,281.93 370.43,281.33 371.18,280.70 371.93,280.06 372.68,279.40 373.43,278.73 374.18,278.04 374.93,277.33 375.68,276.60 376.43,275.86 377.18,275.10 377.93,274.33 378.68,273.53 379.43,272.72 380.18,271.89 380.93,271.05 381.68,270.19 382.43,269.31 383.18,268.41 383.93,267.50 384.68,266.57 385.43,265.62 386.18,264.66 386.93,263.68 387.68,262.68 388.43,261.67 389.18,260.64 389.93,259.59 390.68,258.52 391.43,257.44 392.18,256.34 392.94,255.22 393.69,254.09 394.44,252.94 395.19,251.77 395.94,250.59 396.69,249.39 397.44,248.17 398.19,246.93 398.94,245.68 399.66,244.41 400.39,243.12 401.19,241.82 402.22,240.35 403.33,238.85 404.12,237.81 404.40,238.40 404.62,239.40 404.93,240.81 405.28,242.54 405.60,244.50 405.88,246.44 406.15,248.49 406.42,251.11 406.70,254.80 406.99,259.96 407.29,266.24 407.60,272.98 407.90,279.50 408.21,286.00 408.53,292.71 408.84,299.02 409.10,304.30 409.32,308.28 409.50,311.33 409.66,313.78 409.80,316.00 409.93,317.98 410.03,319.57 410.12,320.88 410.20,322.00 410.25,322.80 410.27,323.29 410.31,323.75 410.40,324.50 410.55,325.86 410.75,327.58 411.00,329.11 411.30,329.90 411.66,329.44 412.07,328.14 412.54,326.82 413.10,326.30 413.77,326.97 414.53,328.34 415.33,329.89 416.10,331.10 416.86,331.86 417.62,332.43 418.35,332.86 419.00,333.20 419.54,333.49 419.99,333.71 420.42,333.74 420.90,333.50 421.44,332.87 422.02,331.94 422.61,330.89 423.20,329.90 423.74,328.94 424.24,327.95 424.83,327.03 425.60,326.30 426.57,325.81 427.68,325.50 428.95,325.29 430.40,325.10 432.09,324.94 434.00,324.83 436.01,324.76 438.00,324.70 440.10,324.65 442.32,324.62 444.38,324.61 446.00,324.60 447.04,324.57 447.68,324.54 448.10,324.53 448.50,324.60 448.88,324.71 449.16,324.86 449.39,325.11 449.60,325.50 449.80,325.81 449.96,326.09 450.12,326.82 450.30,328.50 450.51,331.52 450.73,335.53 450.96,339.90 451.20,344.00 451.45,347.96 451.71,352.03 451.96,355.71 452.20,358.50 452.36,360.13 452.47,360.92 452.65,361.24 453.00,361.50 453.53,361.66 454.19,361.55 455.00,361.37 456.00,361.30 457.20,361.39 458.58,361.53 460.12,361.71 461.80,361.90 463.52,362.11 465.33,362.35 467.42,362.59 470.00,362.80 472.91,362.98 476.11,363.14 480.00,363.29 485.00,363.40 492.25,363.48 501.19,363.54 509.66,363.57 515.50,363.60" fill="none" stroke="#C91C42" stroke-width="1.60" stroke-dasharray="5 4.4" stroke-dashoffset="0.0" stroke-linejoin="round"/>
<clipPath id="c3"><rect x="419.60" y="232.90" width="118.00" height="43.70"/></clipPath>
<rect x="419.60" y="232.90" width="118.00" height="43.70" fill="#fff"/>
<g clip-path="url(#c3)">
<polyline points="419.60,251.30 537.60,251.30" fill="none" stroke="#111" stroke-width="1.50" stroke-linejoin="round"/>
<polyline points="420.30,226.00 420.39,227.04 420.51,228.51 420.66,230.21 420.82,231.94 421.00,233.50 421.20,234.85 421.43,236.12 421.67,237.38 421.90,238.65 422.10,240.00 422.25,241.40 422.36,242.83 422.47,244.31 422.60,245.86 422.80,247.50 423.06,249.27 423.36,251.16 423.69,253.10 424.07,255.07 424.50,257.00 424.99,258.98 425.55,261.03 426.13,263.05 426.73,264.91 427.30,266.50 427.84,267.80 428.36,268.89 428.89,269.80 429.43,270.55 430.00,271.20 430.61,271.74 431.25,272.14 431.91,272.40 432.56,272.52 433.20,272.50 433.81,272.27 434.41,271.83 435.01,271.28 435.60,270.70 436.20,270.20 436.80,269.78 437.39,269.37 437.98,268.97 438.58,268.55 439.20,268.10 439.82,267.60 440.43,267.05 441.06,266.49 441.75,265.96 442.50,265.50 443.32,265.09 444.18,264.70 445.10,264.36 446.10,264.08 447.20,263.90 448.44,263.84 449.81,263.89 451.24,264.00 452.66,264.12 454.00,264.20 455.24,264.27 456.41,264.34 457.57,264.41 458.75,264.44 460.00,264.40 461.34,264.29 462.74,264.12 464.17,263.91 465.60,263.66 467.00,263.40 468.33,263.08 469.62,262.70 470.92,262.31 472.29,261.96 473.80,261.70 475.47,261.55 477.24,261.47 479.11,261.45 481.04,261.43 483.00,261.40 485.03,261.38 487.15,261.38 489.31,261.38 491.44,261.33 493.50,261.20 495.45,260.97 497.34,260.68 499.20,260.32 501.08,259.93 503.00,259.50 504.95,259.00 506.91,258.43 508.90,257.84 510.96,257.28 513.10,256.80 515.35,256.42 517.70,256.09 520.10,255.81 522.55,255.56 525.00,255.30 527.68,255.04 530.59,254.78 533.43,254.54 535.88,254.34 537.60,254.20" fill="none" stroke="#0072BD" stroke-width="1.50" stroke-dasharray="3.5 3.2" stroke-dashoffset="0.0" stroke-linejoin="round"/>
<polyline points="420.40,226.00 420.48,227.84 420.58,230.40 420.70,233.44 420.84,236.72 421.00,240.00 421.18,243.51 421.38,247.42 421.60,251.36 421.81,255.01 422.00,258.00 422.18,260.25 422.34,262.00 422.50,263.36 422.66,264.49 422.80,265.50 422.92,266.39 423.02,267.06 423.12,267.54 423.24,267.84 423.40,268.00 423.62,268.09 423.88,268.10 424.16,267.91 424.44,267.38 424.70,266.40 424.93,264.82 425.14,262.72 425.34,260.33 425.56,257.85 425.80,255.50 426.08,253.20 426.39,250.81 426.70,248.44 427.01,246.23 427.30,244.30 427.56,242.67 427.81,241.25 428.04,240.02 428.27,238.94 428.50,238.00 428.72,237.19 428.93,236.52 429.14,236.00 429.36,235.63 429.60,235.40 429.86,235.34 430.13,235.46 430.42,235.70 430.71,236.03 431.00,236.40 431.23,236.85 431.42,237.42 431.63,238.02 431.96,238.61 432.50,239.10 433.29,239.48 434.28,239.79 435.39,240.06 436.56,240.32 437.70,240.60 438.88,240.91 440.15,241.24 441.42,241.56 442.59,241.85 443.60,242.10 444.32,242.27 444.80,242.37 445.22,242.45 445.76,242.58 446.60,242.80 447.84,243.16 449.35,243.63 450.99,244.14 452.60,244.62 454.00,245.00 455.16,245.24 456.20,245.40 457.16,245.52 458.10,245.66 459.10,245.90 460.11,246.25 461.10,246.67 462.10,247.13 463.19,247.59 464.40,248.00 465.71,248.37 467.08,248.71 468.56,249.04 470.19,249.37 472.00,249.70 474.07,250.04 476.36,250.38 478.78,250.73 481.23,251.07 483.60,251.40 485.86,251.73 488.09,252.06 490.32,252.38 492.61,252.69 495.00,253.00 497.55,253.32 500.22,253.65 502.93,253.96 505.62,254.23 508.20,254.40 510.56,254.46 512.74,254.44 514.93,254.36 517.29,254.27 520.00,254.20 523.43,254.14 527.47,254.07 531.55,254.00 535.11,253.94 537.60,253.90" fill="none" stroke="#F0AE14" stroke-width="1.50" stroke-dasharray="3.5 3.2" stroke-dashoffset="2.0" stroke-linejoin="round"/>
<polyline points="420.60,226.00 420.67,227.18 420.75,228.90 420.87,230.82 421.05,232.60 421.30,233.90 421.66,234.56 422.11,234.82 422.61,234.89 423.12,235.01 423.60,235.40 424.05,236.09 424.49,236.92 424.92,237.86 425.36,238.86 425.80,239.90 426.24,241.05 426.68,242.34 427.11,243.64 427.55,244.83 428.00,245.80 428.44,246.49 428.88,246.98 429.33,247.35 429.80,247.66 430.30,248.00 430.84,248.37 431.41,248.72 432.00,249.04 432.60,249.31 433.20,249.50 433.77,249.61 434.32,249.66 434.89,249.64 435.50,249.59 436.20,249.50 437.03,249.36 437.97,249.15 438.94,248.91 439.88,248.68 440.70,248.50 441.33,248.35 441.83,248.22 442.29,248.10 442.85,248.03 443.60,248.00 444.63,248.04 445.85,248.14 447.17,248.27 448.45,248.40 449.60,248.50 450.53,248.57 451.33,248.62 452.09,248.66 452.95,248.72 454.00,248.80 455.29,248.91 456.73,249.05 458.28,249.20 459.89,249.35 461.50,249.50 463.13,249.64 464.82,249.79 466.54,249.93 468.27,250.07 470.00,250.20 471.69,250.32 473.34,250.42 475.02,250.52 476.79,250.62 478.70,250.70 480.21,250.77 481.29,250.84 482.74,250.90 485.38,250.95 490.00,251.00 497.96,251.05 508.71,251.10 520.24,251.14 530.55,251.17 537.60,251.20" fill="none" stroke="#77AC30" stroke-width="1.50" stroke-dasharray="3.5 3.2" stroke-dashoffset="1.0" stroke-linejoin="round"/>
<polyline points="420.80,226.00 420.86,226.94 420.95,228.18 421.06,229.75 421.18,231.65 421.30,233.90 421.41,236.76 421.52,240.21 421.65,243.87 421.80,247.36 422.00,250.30 422.28,252.68 422.62,254.76 422.98,256.53 423.32,258.01 423.60,259.20 423.78,259.96 423.91,260.29 424.01,260.40 424.12,260.47 424.30,260.70 424.56,261.28 424.88,262.07 425.22,262.80 425.54,263.21 425.80,263.00 425.98,262.00 426.10,260.40 426.20,258.46 426.32,256.47 426.50,254.70 426.76,253.16 427.08,251.68 427.41,250.22 427.73,248.77 428.00,247.30 428.18,245.73 428.30,244.06 428.41,242.44 428.56,241.00 428.80,239.90 429.17,239.19 429.65,238.77 430.16,238.56 430.63,238.46 431.00,238.40 431.15,238.39 431.13,238.48 431.11,238.66 431.24,238.87 431.70,239.10 432.61,239.37 433.86,239.71 435.26,240.07 436.61,240.38 437.70,240.60 438.45,240.67 438.98,240.64 439.44,240.56 439.96,240.53 440.70,240.60 441.74,240.82 442.99,241.13 444.31,241.49 445.56,241.83 446.60,242.10 447.34,242.29 447.87,242.43 448.33,242.55 448.86,242.67 449.60,242.80 450.64,242.96 451.89,243.12 453.21,243.28 454.46,243.44 455.50,243.60 456.24,243.73 456.77,243.85 457.23,243.97 457.76,244.11 458.50,244.30 459.48,244.53 460.60,244.80 461.82,245.10 463.10,245.43 464.40,245.80 465.66,246.24 466.90,246.74 468.22,247.27 469.69,247.77 471.40,248.20 473.40,248.55 475.65,248.85 478.05,249.11 480.52,249.36 483.00,249.60 485.04,249.85 486.68,250.09 488.60,250.31 491.46,250.52 495.90,250.70 503.06,250.86 512.51,251.00 522.54,251.13 531.47,251.23 537.60,251.30" fill="none" stroke="#C91C42" stroke-width="1.50" stroke-dasharray="3.5 3.2" stroke-dashoffset="3.0" stroke-linejoin="round"/>
</g>
<line x1="419.60" y1="232.90" x2="419.60" y2="276.60" stroke="#6e6e6e" stroke-width="0.80"/>
<line x1="419.60" y1="276.60" x2="537.60" y2="276.60" stroke="#6e6e6e" stroke-width="0.80"/>
<line x1="419.60" y1="232.90" x2="537.60" y2="232.90" stroke="#6e6e6e" stroke-width="1.10"/>
<line x1="537.60" y1="232.90" x2="537.60" y2="276.60" stroke="#6e6e6e" stroke-width="0.80"/>
<line x1="438.20" y1="276.60" x2="438.20" y2="275.00" stroke="#6e6e6e" stroke-width="0.80"/>
<text x="438.20" y="283.20" font-size="6.10" text-anchor="middle" font-weight="normal" fill="#333">6.5</text>
<line x1="464.00" y1="276.60" x2="464.00" y2="275.00" stroke="#6e6e6e" stroke-width="0.80"/>
<text x="464.00" y="283.20" font-size="6.10" text-anchor="middle" font-weight="normal" fill="#333">7</text>
<line x1="490.50" y1="276.60" x2="490.50" y2="275.00" stroke="#6e6e6e" stroke-width="0.80"/>
<text x="490.50" y="283.20" font-size="6.10" text-anchor="middle" font-weight="normal" fill="#333">7.5</text>
<line x1="516.80" y1="276.60" x2="516.80" y2="275.00" stroke="#6e6e6e" stroke-width="0.80"/>
<text x="516.80" y="283.20" font-size="6.10" text-anchor="middle" font-weight="normal" fill="#333">8</text>
<line x1="419.60" y1="234.20" x2="421.20" y2="234.20" stroke="#6e6e6e" stroke-width="0.80"/>
<text x="418.20" y="236.30" font-size="6.10" text-anchor="end" font-weight="normal" fill="#333">24</text>
<line x1="419.60" y1="250.00" x2="421.20" y2="250.00" stroke="#6e6e6e" stroke-width="0.80"/>
<text x="418.20" y="252.10" font-size="6.10" text-anchor="end" font-weight="normal" fill="#333">23</text>
<line x1="419.60" y1="264.90" x2="421.20" y2="264.90" stroke="#6e6e6e" stroke-width="0.80"/>
<text x="418.20" y="267.00" font-size="6.10" text-anchor="end" font-weight="normal" fill="#333">22</text>
</svg>
</body></html>
